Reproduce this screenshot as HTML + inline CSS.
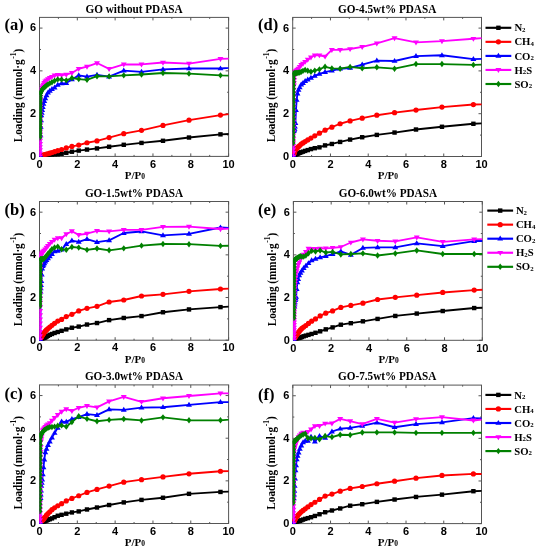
<!DOCTYPE html>
<html><head><meta charset="utf-8"><title>Adsorption isotherms</title>
<style>html,body{margin:0;padding:0;background:#fff;}svg{display:block;}</style></head>
<body>
<svg width="539" height="550" viewBox="0 0 539 550">
<rect width="100%" height="100%" fill="#ffffff"/>
<defs><clipPath id="c0"><rect x="39.5" y="17.4" width="189.1" height="139.0"/></clipPath><clipPath id="c1"><rect x="39.5" y="201.5" width="189.1" height="138.7"/></clipPath><clipPath id="c2"><rect x="39.5" y="384.9" width="189.1" height="138.60000000000002"/></clipPath><clipPath id="c3"><rect x="292.7" y="17.4" width="188.8" height="139.1"/></clipPath><clipPath id="c4"><rect x="293.4" y="201.5" width="188.90000000000003" height="138.8"/></clipPath><clipPath id="c5"><rect x="292.8" y="385.1" width="188.7" height="138.5"/></clipPath></defs>
<rect x="39.5" y="17.4" width="189.1" height="139.0" fill="none" stroke="#555555" stroke-width="1"/>
<path d="M39.50,156.4v-3M39.50,17.4v3M58.41,156.4v-1.5M58.41,17.4v1.5M77.32,156.4v-3M77.32,17.4v3M96.23,156.4v-1.5M96.23,17.4v1.5M115.14,156.4v-3M115.14,17.4v3M134.05,156.4v-1.5M134.05,17.4v1.5M152.96,156.4v-3M152.96,17.4v3M171.87,156.4v-1.5M171.87,17.4v1.5M190.78,156.4v-3M190.78,17.4v3M209.69,156.4v-1.5M209.69,17.4v1.5M228.60,156.4v-3M228.60,17.4v3M39.5,156.40h3M228.6,156.40h-3M39.5,135.02h1.5M228.6,135.02h-1.5M39.5,113.63h3M228.6,113.63h-3M39.5,92.25h1.5M228.6,92.25h-1.5M39.5,70.86h3M228.6,70.86h-3M39.5,49.48h1.5M228.6,49.48h-1.5M39.5,28.09h3M228.6,28.09h-3" stroke="#555555" stroke-width="1" fill="none"/>
<g clip-path="url(#c0)">
<polyline points="39.50,156.40 39.73,156.40 39.77,156.40 39.83,156.40 39.90,156.40 39.98,156.40 40.09,156.40 40.21,156.40 40.36,156.40 40.54,156.40 40.76,156.40 41.02,156.40 41.34,156.40 41.73,156.40 42.20,156.40 42.77,156.40 43.46,156.40 44.29,156.40 45.30,156.40 46.52,156.40 48.00,156.40 49.79,156.40 51.96,156.12 54.59,155.47 57.76,154.68 61.61,153.77 66.27,152.78 71.90,151.72 78.73,150.62 86.99,149.58 96.99,148.43 109.10,146.75 123.76,144.80 141.50,142.92 162.98,140.79 188.99,137.53 220.47,134.36 258.58,132.53" fill="none" stroke="#000000" stroke-width="1.85" stroke-linejoin="round"/>
<rect x="37.53" y="154.20" width="4.40" height="4.40" fill="#000000"/>
<rect x="37.57" y="154.20" width="4.40" height="4.40" fill="#000000"/>
<rect x="37.63" y="154.20" width="4.40" height="4.40" fill="#000000"/>
<rect x="37.70" y="154.20" width="4.40" height="4.40" fill="#000000"/>
<rect x="37.78" y="154.20" width="4.40" height="4.40" fill="#000000"/>
<rect x="37.89" y="154.20" width="4.40" height="4.40" fill="#000000"/>
<rect x="38.01" y="154.20" width="4.40" height="4.40" fill="#000000"/>
<rect x="38.16" y="154.20" width="4.40" height="4.40" fill="#000000"/>
<rect x="38.34" y="154.20" width="4.40" height="4.40" fill="#000000"/>
<rect x="38.56" y="154.20" width="4.40" height="4.40" fill="#000000"/>
<rect x="38.82" y="154.20" width="4.40" height="4.40" fill="#000000"/>
<rect x="39.14" y="154.20" width="4.40" height="4.40" fill="#000000"/>
<rect x="39.53" y="154.20" width="4.40" height="4.40" fill="#000000"/>
<rect x="40.00" y="154.20" width="4.40" height="4.40" fill="#000000"/>
<rect x="40.57" y="154.20" width="4.40" height="4.40" fill="#000000"/>
<rect x="41.26" y="154.20" width="4.40" height="4.40" fill="#000000"/>
<rect x="42.09" y="154.20" width="4.40" height="4.40" fill="#000000"/>
<rect x="43.10" y="154.20" width="4.40" height="4.40" fill="#000000"/>
<rect x="44.32" y="154.20" width="4.40" height="4.40" fill="#000000"/>
<rect x="45.80" y="154.20" width="4.40" height="4.40" fill="#000000"/>
<rect x="47.59" y="154.20" width="4.40" height="4.40" fill="#000000"/>
<rect x="49.76" y="153.92" width="4.40" height="4.40" fill="#000000"/>
<rect x="52.39" y="153.27" width="4.40" height="4.40" fill="#000000"/>
<rect x="55.56" y="152.48" width="4.40" height="4.40" fill="#000000"/>
<rect x="59.41" y="151.57" width="4.40" height="4.40" fill="#000000"/>
<rect x="64.07" y="150.58" width="4.40" height="4.40" fill="#000000"/>
<rect x="69.70" y="149.52" width="4.40" height="4.40" fill="#000000"/>
<rect x="76.53" y="148.42" width="4.40" height="4.40" fill="#000000"/>
<rect x="84.79" y="147.38" width="4.40" height="4.40" fill="#000000"/>
<rect x="94.79" y="146.23" width="4.40" height="4.40" fill="#000000"/>
<rect x="106.90" y="144.55" width="4.40" height="4.40" fill="#000000"/>
<rect x="121.56" y="142.60" width="4.40" height="4.40" fill="#000000"/>
<rect x="139.30" y="140.72" width="4.40" height="4.40" fill="#000000"/>
<rect x="160.78" y="138.59" width="4.40" height="4.40" fill="#000000"/>
<rect x="186.79" y="135.33" width="4.40" height="4.40" fill="#000000"/>
<rect x="218.27" y="132.16" width="4.40" height="4.40" fill="#000000"/>
<rect x="256.38" y="130.33" width="4.40" height="4.40" fill="#000000"/>
<polyline points="39.50,156.40 39.73,156.33 39.77,156.32 39.83,156.30 39.90,156.28 39.98,156.25 40.09,156.22 40.21,156.18 40.36,156.13 40.54,156.08 40.76,156.01 41.02,155.93 41.34,155.83 41.73,155.71 42.20,155.56 42.77,155.38 43.46,155.17 44.29,154.91 45.30,154.60 46.52,154.22 48.00,153.76 49.79,153.20 51.96,152.52 54.59,151.70 57.76,150.71 61.61,149.50 66.27,147.88 71.90,146.38 78.73,145.04 86.99,142.76 96.99,140.90 109.10,137.53 123.76,133.64 141.50,130.29 162.98,125.39 188.99,120.18 220.47,115.10 258.58,110.52" fill="none" stroke="#ff0000" stroke-width="1.85" stroke-linejoin="round"/>
<circle cx="39.73" cy="156.33" r="2.60" fill="#ff0000"/>
<circle cx="39.77" cy="156.32" r="2.60" fill="#ff0000"/>
<circle cx="39.83" cy="156.30" r="2.60" fill="#ff0000"/>
<circle cx="39.90" cy="156.28" r="2.60" fill="#ff0000"/>
<circle cx="39.98" cy="156.25" r="2.60" fill="#ff0000"/>
<circle cx="40.09" cy="156.22" r="2.60" fill="#ff0000"/>
<circle cx="40.21" cy="156.18" r="2.60" fill="#ff0000"/>
<circle cx="40.36" cy="156.13" r="2.60" fill="#ff0000"/>
<circle cx="40.54" cy="156.08" r="2.60" fill="#ff0000"/>
<circle cx="40.76" cy="156.01" r="2.60" fill="#ff0000"/>
<circle cx="41.02" cy="155.93" r="2.60" fill="#ff0000"/>
<circle cx="41.34" cy="155.83" r="2.60" fill="#ff0000"/>
<circle cx="41.73" cy="155.71" r="2.60" fill="#ff0000"/>
<circle cx="42.20" cy="155.56" r="2.60" fill="#ff0000"/>
<circle cx="42.77" cy="155.38" r="2.60" fill="#ff0000"/>
<circle cx="43.46" cy="155.17" r="2.60" fill="#ff0000"/>
<circle cx="44.29" cy="154.91" r="2.60" fill="#ff0000"/>
<circle cx="45.30" cy="154.60" r="2.60" fill="#ff0000"/>
<circle cx="46.52" cy="154.22" r="2.60" fill="#ff0000"/>
<circle cx="48.00" cy="153.76" r="2.60" fill="#ff0000"/>
<circle cx="49.79" cy="153.20" r="2.60" fill="#ff0000"/>
<circle cx="51.96" cy="152.52" r="2.60" fill="#ff0000"/>
<circle cx="54.59" cy="151.70" r="2.60" fill="#ff0000"/>
<circle cx="57.76" cy="150.71" r="2.60" fill="#ff0000"/>
<circle cx="61.61" cy="149.50" r="2.60" fill="#ff0000"/>
<circle cx="66.27" cy="147.88" r="2.60" fill="#ff0000"/>
<circle cx="71.90" cy="146.38" r="2.60" fill="#ff0000"/>
<circle cx="78.73" cy="145.04" r="2.60" fill="#ff0000"/>
<circle cx="86.99" cy="142.76" r="2.60" fill="#ff0000"/>
<circle cx="96.99" cy="140.90" r="2.60" fill="#ff0000"/>
<circle cx="109.10" cy="137.53" r="2.60" fill="#ff0000"/>
<circle cx="123.76" cy="133.64" r="2.60" fill="#ff0000"/>
<circle cx="141.50" cy="130.29" r="2.60" fill="#ff0000"/>
<circle cx="162.98" cy="125.39" r="2.60" fill="#ff0000"/>
<circle cx="188.99" cy="120.18" r="2.60" fill="#ff0000"/>
<circle cx="220.47" cy="115.10" r="2.60" fill="#ff0000"/>
<circle cx="258.58" cy="110.52" r="2.60" fill="#ff0000"/>
<polyline points="39.50,156.40 39.97,156.40 40.00,156.40 40.02,156.40 40.04,156.40 40.07,156.40 40.09,156.40 40.11,156.40 40.14,156.40 40.16,156.40 40.19,156.40 40.21,156.40 40.23,156.40 40.26,156.40 40.28,156.40 40.30,156.40 40.33,156.40 40.35,156.40 40.37,156.40 40.40,156.40 40.42,156.40 40.45,156.40 40.54,135.27 40.76,126.81 41.02,120.27 41.34,115.41 41.73,112.77 42.20,110.12 42.77,107.20 43.46,104.00 44.29,101.15 45.30,98.30 46.52,95.42 48.00,92.69 49.79,90.91 51.96,89.16 54.59,87.52 57.76,84.78 61.61,83.46 66.27,83.05 71.90,79.48 78.73,75.37 86.99,76.63 96.99,74.95 109.10,76.61 123.76,70.68 141.50,71.87 162.98,69.39 188.99,68.51 220.47,68.50 258.58,65.74" fill="none" stroke="#0000ff" stroke-width="1.85" stroke-linejoin="round"/>
<polygon points="39.97,153.30 42.92,158.26 37.03,158.26" fill="#0000ff"/>
<polygon points="40.00,153.30 42.94,158.26 37.05,158.26" fill="#0000ff"/>
<polygon points="40.02,153.30 42.97,158.26 37.08,158.26" fill="#0000ff"/>
<polygon points="40.04,153.30 42.99,158.26 37.10,158.26" fill="#0000ff"/>
<polygon points="40.07,153.30 43.01,158.26 37.12,158.26" fill="#0000ff"/>
<polygon points="40.09,153.30 43.04,158.26 37.15,158.26" fill="#0000ff"/>
<polygon points="40.11,153.30 43.06,158.26 37.17,158.26" fill="#0000ff"/>
<polygon points="40.14,153.30 43.08,158.26 37.19,158.26" fill="#0000ff"/>
<polygon points="40.16,153.30 43.11,158.26 37.22,158.26" fill="#0000ff"/>
<polygon points="40.19,153.30 43.13,158.26 37.24,158.26" fill="#0000ff"/>
<polygon points="40.21,153.30 43.15,158.26 37.26,158.26" fill="#0000ff"/>
<polygon points="40.23,153.30 43.18,158.26 37.29,158.26" fill="#0000ff"/>
<polygon points="40.26,153.30 43.20,158.26 37.31,158.26" fill="#0000ff"/>
<polygon points="40.28,153.30 43.23,158.26 37.34,158.26" fill="#0000ff"/>
<polygon points="40.30,153.30 43.25,158.26 37.36,158.26" fill="#0000ff"/>
<polygon points="40.33,153.30 43.27,158.26 37.38,158.26" fill="#0000ff"/>
<polygon points="40.35,153.30 43.30,158.26 37.41,158.26" fill="#0000ff"/>
<polygon points="40.37,153.30 43.32,158.26 37.43,158.26" fill="#0000ff"/>
<polygon points="40.40,153.30 43.34,158.26 37.45,158.26" fill="#0000ff"/>
<polygon points="40.42,153.30 43.37,158.26 37.48,158.26" fill="#0000ff"/>
<polygon points="40.45,153.30 43.39,158.26 37.50,158.26" fill="#0000ff"/>
<polygon points="40.54,132.17 43.48,137.13 37.59,137.13" fill="#0000ff"/>
<polygon points="40.76,123.71 43.70,128.67 37.81,128.67" fill="#0000ff"/>
<polygon points="41.02,117.17 43.97,122.13 38.08,122.13" fill="#0000ff"/>
<polygon points="41.34,112.31 44.29,117.27 38.40,117.27" fill="#0000ff"/>
<polygon points="41.73,109.67 44.68,114.63 38.79,114.63" fill="#0000ff"/>
<polygon points="42.20,107.02 45.15,111.98 39.26,111.98" fill="#0000ff"/>
<polygon points="42.77,104.10 45.72,109.06 39.83,109.06" fill="#0000ff"/>
<polygon points="43.46,100.90 46.40,105.86 40.51,105.86" fill="#0000ff"/>
<polygon points="44.29,98.05 47.24,103.01 41.35,103.01" fill="#0000ff"/>
<polygon points="45.30,95.20 48.25,100.16 42.36,100.16" fill="#0000ff"/>
<polygon points="46.52,92.32 49.47,97.28 43.58,97.28" fill="#0000ff"/>
<polygon points="48.00,89.59 50.95,94.55 45.06,94.55" fill="#0000ff"/>
<polygon points="49.79,87.81 52.74,92.77 46.85,92.77" fill="#0000ff"/>
<polygon points="51.96,86.06 54.91,91.02 49.02,91.02" fill="#0000ff"/>
<polygon points="54.59,84.42 57.53,89.38 51.64,89.38" fill="#0000ff"/>
<polygon points="57.76,81.68 60.71,86.64 54.82,86.64" fill="#0000ff"/>
<polygon points="61.61,80.36 64.56,85.32 58.67,85.32" fill="#0000ff"/>
<polygon points="66.27,79.95 69.21,84.91 63.32,84.91" fill="#0000ff"/>
<polygon points="71.90,76.38 74.85,81.34 68.96,81.34" fill="#0000ff"/>
<polygon points="78.73,72.27 81.67,77.23 75.78,77.23" fill="#0000ff"/>
<polygon points="86.99,73.53 89.93,78.49 84.04,78.49" fill="#0000ff"/>
<polygon points="96.99,71.85 99.94,76.81 94.05,76.81" fill="#0000ff"/>
<polygon points="109.10,73.51 112.04,78.47 106.15,78.47" fill="#0000ff"/>
<polygon points="123.76,67.58 126.70,72.54 120.81,72.54" fill="#0000ff"/>
<polygon points="141.50,68.77 144.45,73.73 138.56,73.73" fill="#0000ff"/>
<polygon points="162.98,66.29 165.93,71.25 160.04,71.25" fill="#0000ff"/>
<polygon points="188.99,65.41 191.93,70.37 186.04,70.37" fill="#0000ff"/>
<polygon points="220.47,65.40 223.41,70.36 217.52,70.36" fill="#0000ff"/>
<polygon points="258.58,62.64 261.53,67.60 255.64,67.60" fill="#0000ff"/>
<polyline points="39.50,156.40 39.97,156.40 40.00,153.27 40.02,150.13 40.04,147.00 40.07,143.86 40.09,140.73 40.11,137.59 40.14,134.46 40.16,131.32 40.19,128.19 40.21,125.05 40.23,121.92 40.26,118.78 40.28,115.65 40.30,112.51 40.33,109.38 40.35,106.24 40.37,103.11 40.40,99.97 40.42,96.84 40.45,93.70 40.54,93.37 40.76,92.58 41.02,91.63 41.34,90.47 41.73,89.08 42.20,87.39 42.77,86.02 43.46,84.63 44.29,82.95 45.30,81.28 46.52,80.25 48.00,78.99 49.79,77.98 51.96,76.75 54.59,75.48 57.76,74.97 61.61,75.08 66.27,74.58 71.90,72.94 78.73,68.76 86.99,66.58 96.99,63.04 109.10,68.85 123.76,64.47 141.50,64.45 162.98,62.54 188.99,63.58 220.47,58.88 258.58,57.50" fill="none" stroke="#ff00ff" stroke-width="1.85" stroke-linejoin="round"/>
<polygon points="39.97,159.50 42.92,154.54 37.03,154.54" fill="#ff00ff"/>
<polygon points="40.00,156.37 42.94,151.41 37.05,151.41" fill="#ff00ff"/>
<polygon points="40.02,153.23 42.97,148.27 37.08,148.27" fill="#ff00ff"/>
<polygon points="40.04,150.10 42.99,145.14 37.10,145.14" fill="#ff00ff"/>
<polygon points="40.07,146.96 43.01,142.00 37.12,142.00" fill="#ff00ff"/>
<polygon points="40.09,143.83 43.04,138.87 37.15,138.87" fill="#ff00ff"/>
<polygon points="40.11,140.69 43.06,135.73 37.17,135.73" fill="#ff00ff"/>
<polygon points="40.14,137.56 43.08,132.60 37.19,132.60" fill="#ff00ff"/>
<polygon points="40.16,134.42 43.11,129.46 37.22,129.46" fill="#ff00ff"/>
<polygon points="40.19,131.29 43.13,126.33 37.24,126.33" fill="#ff00ff"/>
<polygon points="40.21,128.15 43.15,123.19 37.26,123.19" fill="#ff00ff"/>
<polygon points="40.23,125.02 43.18,120.06 37.29,120.06" fill="#ff00ff"/>
<polygon points="40.26,121.88 43.20,116.92 37.31,116.92" fill="#ff00ff"/>
<polygon points="40.28,118.75 43.23,113.79 37.34,113.79" fill="#ff00ff"/>
<polygon points="40.30,115.61 43.25,110.65 37.36,110.65" fill="#ff00ff"/>
<polygon points="40.33,112.48 43.27,107.52 37.38,107.52" fill="#ff00ff"/>
<polygon points="40.35,109.34 43.30,104.38 37.41,104.38" fill="#ff00ff"/>
<polygon points="40.37,106.21 43.32,101.25 37.43,101.25" fill="#ff00ff"/>
<polygon points="40.40,103.07 43.34,98.11 37.45,98.11" fill="#ff00ff"/>
<polygon points="40.42,99.94 43.37,94.98 37.48,94.98" fill="#ff00ff"/>
<polygon points="40.45,96.80 43.39,91.84 37.50,91.84" fill="#ff00ff"/>
<polygon points="40.54,96.47 43.48,91.51 37.59,91.51" fill="#ff00ff"/>
<polygon points="40.76,95.68 43.70,90.72 37.81,90.72" fill="#ff00ff"/>
<polygon points="41.02,94.73 43.97,89.77 38.08,89.77" fill="#ff00ff"/>
<polygon points="41.34,93.57 44.29,88.61 38.40,88.61" fill="#ff00ff"/>
<polygon points="41.73,92.18 44.68,87.22 38.79,87.22" fill="#ff00ff"/>
<polygon points="42.20,90.49 45.15,85.53 39.26,85.53" fill="#ff00ff"/>
<polygon points="42.77,89.12 45.72,84.16 39.83,84.16" fill="#ff00ff"/>
<polygon points="43.46,87.73 46.40,82.77 40.51,82.77" fill="#ff00ff"/>
<polygon points="44.29,86.05 47.24,81.09 41.35,81.09" fill="#ff00ff"/>
<polygon points="45.30,84.38 48.25,79.42 42.36,79.42" fill="#ff00ff"/>
<polygon points="46.52,83.35 49.47,78.39 43.58,78.39" fill="#ff00ff"/>
<polygon points="48.00,82.09 50.95,77.13 45.06,77.13" fill="#ff00ff"/>
<polygon points="49.79,81.08 52.74,76.12 46.85,76.12" fill="#ff00ff"/>
<polygon points="51.96,79.85 54.91,74.89 49.02,74.89" fill="#ff00ff"/>
<polygon points="54.59,78.58 57.53,73.62 51.64,73.62" fill="#ff00ff"/>
<polygon points="57.76,78.07 60.71,73.11 54.82,73.11" fill="#ff00ff"/>
<polygon points="61.61,78.18 64.56,73.22 58.67,73.22" fill="#ff00ff"/>
<polygon points="66.27,77.68 69.21,72.72 63.32,72.72" fill="#ff00ff"/>
<polygon points="71.90,76.04 74.85,71.08 68.96,71.08" fill="#ff00ff"/>
<polygon points="78.73,71.86 81.67,66.90 75.78,66.90" fill="#ff00ff"/>
<polygon points="86.99,69.68 89.93,64.72 84.04,64.72" fill="#ff00ff"/>
<polygon points="96.99,66.14 99.94,61.18 94.05,61.18" fill="#ff00ff"/>
<polygon points="109.10,71.95 112.04,66.99 106.15,66.99" fill="#ff00ff"/>
<polygon points="123.76,67.57 126.70,62.61 120.81,62.61" fill="#ff00ff"/>
<polygon points="141.50,67.55 144.45,62.59 138.56,62.59" fill="#ff00ff"/>
<polygon points="162.98,65.64 165.93,60.68 160.04,60.68" fill="#ff00ff"/>
<polygon points="188.99,66.68 191.93,61.72 186.04,61.72" fill="#ff00ff"/>
<polygon points="220.47,61.98 223.41,57.02 217.52,57.02" fill="#ff00ff"/>
<polygon points="258.58,60.60 261.53,55.64 255.64,55.64" fill="#ff00ff"/>
<polyline points="39.50,137.58 39.97,137.58 40.00,135.37 40.02,133.15 40.04,130.94 40.07,128.73 40.09,126.52 40.11,124.30 40.14,122.09 40.16,119.88 40.19,117.66 40.21,115.45 40.23,113.24 40.26,111.02 40.28,108.81 40.30,106.60 40.33,104.38 40.35,102.17 40.37,99.96 40.40,97.74 40.42,95.53 40.45,93.32 40.54,93.09 40.76,92.57 41.02,91.93 41.34,91.16 41.73,90.23 42.20,89.43 42.77,88.85 43.46,88.14 44.29,87.34 45.30,86.52 46.52,85.53 48.00,84.34 49.79,83.37 51.96,82.21 54.59,80.78 57.76,79.42 61.61,79.54 66.27,80.34 71.90,78.04 78.73,79.05 86.99,79.83 96.99,76.21 109.10,76.42 123.76,75.36 141.50,74.50 162.98,73.01 188.99,73.65 220.47,75.36 258.58,76.27" fill="none" stroke="#008000" stroke-width="1.85" stroke-linejoin="round"/>
<polygon points="39.97,134.38 42.37,137.58 39.97,140.78 37.57,137.58" fill="#008000"/>
<polygon points="40.00,132.17 42.40,135.37 40.00,138.57 37.60,135.37" fill="#008000"/>
<polygon points="40.02,129.95 42.42,133.15 40.02,136.35 37.62,133.15" fill="#008000"/>
<polygon points="40.04,127.74 42.44,130.94 40.04,134.14 37.64,130.94" fill="#008000"/>
<polygon points="40.07,125.53 42.47,128.73 40.07,131.93 37.67,128.73" fill="#008000"/>
<polygon points="40.09,123.32 42.49,126.52 40.09,129.72 37.69,126.52" fill="#008000"/>
<polygon points="40.11,121.10 42.51,124.30 40.11,127.50 37.71,124.30" fill="#008000"/>
<polygon points="40.14,118.89 42.54,122.09 40.14,125.29 37.74,122.09" fill="#008000"/>
<polygon points="40.16,116.68 42.56,119.88 40.16,123.08 37.76,119.88" fill="#008000"/>
<polygon points="40.19,114.46 42.59,117.66 40.19,120.86 37.79,117.66" fill="#008000"/>
<polygon points="40.21,112.25 42.61,115.45 40.21,118.65 37.81,115.45" fill="#008000"/>
<polygon points="40.23,110.04 42.63,113.24 40.23,116.44 37.83,113.24" fill="#008000"/>
<polygon points="40.26,107.82 42.66,111.02 40.26,114.22 37.86,111.02" fill="#008000"/>
<polygon points="40.28,105.61 42.68,108.81 40.28,112.01 37.88,108.81" fill="#008000"/>
<polygon points="40.30,103.40 42.70,106.60 40.30,109.80 37.90,106.60" fill="#008000"/>
<polygon points="40.33,101.18 42.73,104.38 40.33,107.58 37.93,104.38" fill="#008000"/>
<polygon points="40.35,98.97 42.75,102.17 40.35,105.37 37.95,102.17" fill="#008000"/>
<polygon points="40.37,96.76 42.77,99.96 40.37,103.16 37.97,99.96" fill="#008000"/>
<polygon points="40.40,94.54 42.80,97.74 40.40,100.94 38.00,97.74" fill="#008000"/>
<polygon points="40.42,92.33 42.82,95.53 40.42,98.73 38.02,95.53" fill="#008000"/>
<polygon points="40.45,90.12 42.85,93.32 40.45,96.52 38.05,93.32" fill="#008000"/>
<polygon points="40.54,89.89 42.94,93.09 40.54,96.29 38.14,93.09" fill="#008000"/>
<polygon points="40.76,89.37 43.16,92.57 40.76,95.77 38.36,92.57" fill="#008000"/>
<polygon points="41.02,88.73 43.42,91.93 41.02,95.13 38.62,91.93" fill="#008000"/>
<polygon points="41.34,87.96 43.74,91.16 41.34,94.36 38.94,91.16" fill="#008000"/>
<polygon points="41.73,87.03 44.13,90.23 41.73,93.43 39.33,90.23" fill="#008000"/>
<polygon points="42.20,86.23 44.60,89.43 42.20,92.63 39.80,89.43" fill="#008000"/>
<polygon points="42.77,85.65 45.17,88.85 42.77,92.05 40.37,88.85" fill="#008000"/>
<polygon points="43.46,84.94 45.86,88.14 43.46,91.34 41.06,88.14" fill="#008000"/>
<polygon points="44.29,84.14 46.69,87.34 44.29,90.54 41.89,87.34" fill="#008000"/>
<polygon points="45.30,83.32 47.70,86.52 45.30,89.72 42.90,86.52" fill="#008000"/>
<polygon points="46.52,82.33 48.92,85.53 46.52,88.73 44.12,85.53" fill="#008000"/>
<polygon points="48.00,81.14 50.40,84.34 48.00,87.54 45.60,84.34" fill="#008000"/>
<polygon points="49.79,80.17 52.19,83.37 49.79,86.57 47.39,83.37" fill="#008000"/>
<polygon points="51.96,79.01 54.36,82.21 51.96,85.41 49.56,82.21" fill="#008000"/>
<polygon points="54.59,77.58 56.99,80.78 54.59,83.98 52.19,80.78" fill="#008000"/>
<polygon points="57.76,76.22 60.16,79.42 57.76,82.62 55.36,79.42" fill="#008000"/>
<polygon points="61.61,76.34 64.01,79.54 61.61,82.74 59.21,79.54" fill="#008000"/>
<polygon points="66.27,77.14 68.67,80.34 66.27,83.54 63.87,80.34" fill="#008000"/>
<polygon points="71.90,74.84 74.30,78.04 71.90,81.24 69.50,78.04" fill="#008000"/>
<polygon points="78.73,75.85 81.13,79.05 78.73,82.25 76.33,79.05" fill="#008000"/>
<polygon points="86.99,76.63 89.39,79.83 86.99,83.03 84.59,79.83" fill="#008000"/>
<polygon points="96.99,73.01 99.39,76.21 96.99,79.41 94.59,76.21" fill="#008000"/>
<polygon points="109.10,73.22 111.50,76.42 109.10,79.62 106.70,76.42" fill="#008000"/>
<polygon points="123.76,72.16 126.16,75.36 123.76,78.56 121.36,75.36" fill="#008000"/>
<polygon points="141.50,71.30 143.90,74.50 141.50,77.70 139.10,74.50" fill="#008000"/>
<polygon points="162.98,69.81 165.38,73.01 162.98,76.21 160.58,73.01" fill="#008000"/>
<polygon points="188.99,70.45 191.39,73.65 188.99,76.85 186.59,73.65" fill="#008000"/>
<polygon points="220.47,72.16 222.87,75.36 220.47,78.56 218.07,75.36" fill="#008000"/>
<polygon points="258.58,73.07 260.98,76.27 258.58,79.47 256.18,76.27" fill="#008000"/>
</g>
<text x="39.50" y="167.60" text-anchor="middle" font-family="'Liberation Sans',Arial,sans-serif" font-weight="bold" font-size="11">0</text>
<text x="77.32" y="167.60" text-anchor="middle" font-family="'Liberation Sans',Arial,sans-serif" font-weight="bold" font-size="11">2</text>
<text x="115.14" y="167.60" text-anchor="middle" font-family="'Liberation Sans',Arial,sans-serif" font-weight="bold" font-size="11">4</text>
<text x="152.96" y="167.60" text-anchor="middle" font-family="'Liberation Sans',Arial,sans-serif" font-weight="bold" font-size="11">6</text>
<text x="190.78" y="167.60" text-anchor="middle" font-family="'Liberation Sans',Arial,sans-serif" font-weight="bold" font-size="11">8</text>
<text x="228.60" y="167.60" text-anchor="middle" font-family="'Liberation Sans',Arial,sans-serif" font-weight="bold" font-size="11">10</text>
<text x="36.00" y="159.80" text-anchor="end" font-family="'Liberation Sans',Arial,sans-serif" font-weight="bold" font-size="11">0</text>
<text x="36.00" y="117.03" text-anchor="end" font-family="'Liberation Sans',Arial,sans-serif" font-weight="bold" font-size="11">2</text>
<text x="36.00" y="74.26" text-anchor="end" font-family="'Liberation Sans',Arial,sans-serif" font-weight="bold" font-size="11">4</text>
<text x="36.00" y="31.49" text-anchor="end" font-family="'Liberation Sans',Arial,sans-serif" font-weight="bold" font-size="11">6</text>
<text x="85.51" y="12.50" font-family="'Liberation Serif','Times New Roman',serif" font-weight="bold" font-size="12" textLength="97.07" lengthAdjust="spacingAndGlyphs">GO without PDASA</text>
<text x="4.50" y="30.40" font-family="'Liberation Serif','Times New Roman',serif" font-weight="bold" font-size="16.5">(a)</text>
<text x="134.85" y="179.00" text-anchor="middle" font-family="'Liberation Serif','Times New Roman',serif" font-weight="bold" font-size="11">P/P<tspan font-size="7.5">0</tspan></text>
<text transform="translate(21.70,95.50) rotate(-90) scale(0.94,1)" text-anchor="middle" font-family="'Liberation Serif','Times New Roman',serif" font-weight="bold" font-size="11.9">Loading (mmol·g<tspan font-size="8" dy="-6" dx="0.6">-1</tspan><tspan dy="6">)</tspan></text>
<rect x="39.5" y="201.5" width="189.1" height="138.7" fill="none" stroke="#555555" stroke-width="1"/>
<path d="M39.50,340.2v-3M39.50,201.5v3M58.41,340.2v-1.5M58.41,201.5v1.5M77.32,340.2v-3M77.32,201.5v3M96.23,340.2v-1.5M96.23,201.5v1.5M115.14,340.2v-3M115.14,201.5v3M134.05,340.2v-1.5M134.05,201.5v1.5M152.96,340.2v-3M152.96,201.5v3M171.87,340.2v-1.5M171.87,201.5v1.5M190.78,340.2v-3M190.78,201.5v3M209.69,340.2v-1.5M209.69,201.5v1.5M228.60,340.2v-3M228.60,201.5v3M39.5,340.20h3M228.6,340.20h-3M39.5,318.86h1.5M228.6,318.86h-1.5M39.5,297.52h3M228.6,297.52h-3M39.5,276.18h1.5M228.6,276.18h-1.5M39.5,254.85h3M228.6,254.85h-3M39.5,233.51h1.5M228.6,233.51h-1.5M39.5,212.17h3M228.6,212.17h-3" stroke="#555555" stroke-width="1" fill="none"/>
<g clip-path="url(#c1)">
<polyline points="39.50,340.20 39.73,340.15 39.77,340.14 39.83,340.13 39.90,340.11 39.98,340.09 40.09,340.07 40.21,340.04 40.36,340.01 40.54,339.97 40.76,339.92 41.02,339.86 41.34,339.78 41.73,339.58 42.20,339.32 42.77,339.00 43.46,338.61 44.29,338.10 45.30,337.47 46.52,336.71 48.00,335.79 49.79,334.83 51.96,333.98 54.59,332.96 57.76,332.00 61.61,330.83 66.27,329.39 71.90,327.75 78.73,326.59 86.99,324.54 96.99,323.04 109.10,320.11 123.76,317.96 141.50,316.07 162.98,312.25 188.99,309.44 220.47,307.11 258.58,304.83" fill="none" stroke="#000000" stroke-width="1.85" stroke-linejoin="round"/>
<rect x="37.53" y="337.95" width="4.40" height="4.40" fill="#000000"/>
<rect x="37.57" y="337.94" width="4.40" height="4.40" fill="#000000"/>
<rect x="37.63" y="337.93" width="4.40" height="4.40" fill="#000000"/>
<rect x="37.70" y="337.91" width="4.40" height="4.40" fill="#000000"/>
<rect x="37.78" y="337.89" width="4.40" height="4.40" fill="#000000"/>
<rect x="37.89" y="337.87" width="4.40" height="4.40" fill="#000000"/>
<rect x="38.01" y="337.84" width="4.40" height="4.40" fill="#000000"/>
<rect x="38.16" y="337.81" width="4.40" height="4.40" fill="#000000"/>
<rect x="38.34" y="337.77" width="4.40" height="4.40" fill="#000000"/>
<rect x="38.56" y="337.72" width="4.40" height="4.40" fill="#000000"/>
<rect x="38.82" y="337.66" width="4.40" height="4.40" fill="#000000"/>
<rect x="39.14" y="337.58" width="4.40" height="4.40" fill="#000000"/>
<rect x="39.53" y="337.38" width="4.40" height="4.40" fill="#000000"/>
<rect x="40.00" y="337.12" width="4.40" height="4.40" fill="#000000"/>
<rect x="40.57" y="336.80" width="4.40" height="4.40" fill="#000000"/>
<rect x="41.26" y="336.41" width="4.40" height="4.40" fill="#000000"/>
<rect x="42.09" y="335.90" width="4.40" height="4.40" fill="#000000"/>
<rect x="43.10" y="335.27" width="4.40" height="4.40" fill="#000000"/>
<rect x="44.32" y="334.51" width="4.40" height="4.40" fill="#000000"/>
<rect x="45.80" y="333.59" width="4.40" height="4.40" fill="#000000"/>
<rect x="47.59" y="332.63" width="4.40" height="4.40" fill="#000000"/>
<rect x="49.76" y="331.78" width="4.40" height="4.40" fill="#000000"/>
<rect x="52.39" y="330.76" width="4.40" height="4.40" fill="#000000"/>
<rect x="55.56" y="329.80" width="4.40" height="4.40" fill="#000000"/>
<rect x="59.41" y="328.63" width="4.40" height="4.40" fill="#000000"/>
<rect x="64.07" y="327.19" width="4.40" height="4.40" fill="#000000"/>
<rect x="69.70" y="325.55" width="4.40" height="4.40" fill="#000000"/>
<rect x="76.53" y="324.39" width="4.40" height="4.40" fill="#000000"/>
<rect x="84.79" y="322.34" width="4.40" height="4.40" fill="#000000"/>
<rect x="94.79" y="320.84" width="4.40" height="4.40" fill="#000000"/>
<rect x="106.90" y="317.91" width="4.40" height="4.40" fill="#000000"/>
<rect x="121.56" y="315.76" width="4.40" height="4.40" fill="#000000"/>
<rect x="139.30" y="313.87" width="4.40" height="4.40" fill="#000000"/>
<rect x="160.78" y="310.05" width="4.40" height="4.40" fill="#000000"/>
<rect x="186.79" y="307.24" width="4.40" height="4.40" fill="#000000"/>
<rect x="218.27" y="304.91" width="4.40" height="4.40" fill="#000000"/>
<rect x="256.38" y="302.63" width="4.40" height="4.40" fill="#000000"/>
<polyline points="39.50,340.20 39.73,339.74 39.77,339.65 39.83,339.53 39.90,339.39 39.98,339.22 40.09,339.01 40.21,338.76 40.36,338.46 40.54,338.14 40.76,337.80 41.02,337.39 41.34,336.90 41.73,336.30 42.20,335.58 42.77,334.74 43.46,333.78 44.29,332.62 45.30,331.21 46.52,329.91 48.00,328.61 49.79,327.09 51.96,325.36 54.59,323.32 57.76,321.08 61.61,319.39 66.27,316.55 71.90,314.36 78.73,310.96 86.99,308.29 96.99,306.35 109.10,301.98 123.76,299.98 141.50,296.02 162.98,294.32 188.99,291.30 220.47,288.98 258.58,287.15" fill="none" stroke="#ff0000" stroke-width="1.85" stroke-linejoin="round"/>
<circle cx="39.73" cy="339.74" r="2.60" fill="#ff0000"/>
<circle cx="39.77" cy="339.65" r="2.60" fill="#ff0000"/>
<circle cx="39.83" cy="339.53" r="2.60" fill="#ff0000"/>
<circle cx="39.90" cy="339.39" r="2.60" fill="#ff0000"/>
<circle cx="39.98" cy="339.22" r="2.60" fill="#ff0000"/>
<circle cx="40.09" cy="339.01" r="2.60" fill="#ff0000"/>
<circle cx="40.21" cy="338.76" r="2.60" fill="#ff0000"/>
<circle cx="40.36" cy="338.46" r="2.60" fill="#ff0000"/>
<circle cx="40.54" cy="338.14" r="2.60" fill="#ff0000"/>
<circle cx="40.76" cy="337.80" r="2.60" fill="#ff0000"/>
<circle cx="41.02" cy="337.39" r="2.60" fill="#ff0000"/>
<circle cx="41.34" cy="336.90" r="2.60" fill="#ff0000"/>
<circle cx="41.73" cy="336.30" r="2.60" fill="#ff0000"/>
<circle cx="42.20" cy="335.58" r="2.60" fill="#ff0000"/>
<circle cx="42.77" cy="334.74" r="2.60" fill="#ff0000"/>
<circle cx="43.46" cy="333.78" r="2.60" fill="#ff0000"/>
<circle cx="44.29" cy="332.62" r="2.60" fill="#ff0000"/>
<circle cx="45.30" cy="331.21" r="2.60" fill="#ff0000"/>
<circle cx="46.52" cy="329.91" r="2.60" fill="#ff0000"/>
<circle cx="48.00" cy="328.61" r="2.60" fill="#ff0000"/>
<circle cx="49.79" cy="327.09" r="2.60" fill="#ff0000"/>
<circle cx="51.96" cy="325.36" r="2.60" fill="#ff0000"/>
<circle cx="54.59" cy="323.32" r="2.60" fill="#ff0000"/>
<circle cx="57.76" cy="321.08" r="2.60" fill="#ff0000"/>
<circle cx="61.61" cy="319.39" r="2.60" fill="#ff0000"/>
<circle cx="66.27" cy="316.55" r="2.60" fill="#ff0000"/>
<circle cx="71.90" cy="314.36" r="2.60" fill="#ff0000"/>
<circle cx="78.73" cy="310.96" r="2.60" fill="#ff0000"/>
<circle cx="86.99" cy="308.29" r="2.60" fill="#ff0000"/>
<circle cx="96.99" cy="306.35" r="2.60" fill="#ff0000"/>
<circle cx="109.10" cy="301.98" r="2.60" fill="#ff0000"/>
<circle cx="123.76" cy="299.98" r="2.60" fill="#ff0000"/>
<circle cx="141.50" cy="296.02" r="2.60" fill="#ff0000"/>
<circle cx="162.98" cy="294.32" r="2.60" fill="#ff0000"/>
<circle cx="188.99" cy="291.30" r="2.60" fill="#ff0000"/>
<circle cx="220.47" cy="288.98" r="2.60" fill="#ff0000"/>
<circle cx="258.58" cy="287.15" r="2.60" fill="#ff0000"/>
<polyline points="39.50,340.20 39.97,340.20 40.00,340.20 40.02,340.20 40.04,340.20 40.07,340.20 40.09,340.20 40.11,340.20 40.14,340.20 40.16,340.20 40.19,340.20 40.21,340.20 40.23,340.20 40.26,340.20 40.28,340.20 40.30,340.20 40.33,340.20 40.35,340.20 40.37,340.20 40.40,340.20 40.42,340.20 40.45,340.20 40.54,291.70 40.76,288.39 41.02,285.07 41.34,281.05 41.73,274.69 42.20,268.69 42.77,266.20 43.46,264.93 44.29,263.38 45.30,261.72 46.52,260.23 48.00,258.44 49.79,256.27 51.96,254.04 54.59,251.42 57.76,251.01 61.61,249.53 66.27,244.17 71.90,240.65 78.73,241.79 86.99,239.10 96.99,242.20 109.10,240.35 123.76,233.02 141.50,231.46 162.98,235.40 188.99,233.91 220.47,227.53 258.58,228.92" fill="none" stroke="#0000ff" stroke-width="1.85" stroke-linejoin="round"/>
<polygon points="39.97,337.10 42.92,342.06 37.03,342.06" fill="#0000ff"/>
<polygon points="40.00,337.10 42.94,342.06 37.05,342.06" fill="#0000ff"/>
<polygon points="40.02,337.10 42.97,342.06 37.08,342.06" fill="#0000ff"/>
<polygon points="40.04,337.10 42.99,342.06 37.10,342.06" fill="#0000ff"/>
<polygon points="40.07,337.10 43.01,342.06 37.12,342.06" fill="#0000ff"/>
<polygon points="40.09,337.10 43.04,342.06 37.15,342.06" fill="#0000ff"/>
<polygon points="40.11,337.10 43.06,342.06 37.17,342.06" fill="#0000ff"/>
<polygon points="40.14,337.10 43.08,342.06 37.19,342.06" fill="#0000ff"/>
<polygon points="40.16,337.10 43.11,342.06 37.22,342.06" fill="#0000ff"/>
<polygon points="40.19,337.10 43.13,342.06 37.24,342.06" fill="#0000ff"/>
<polygon points="40.21,337.10 43.15,342.06 37.26,342.06" fill="#0000ff"/>
<polygon points="40.23,337.10 43.18,342.06 37.29,342.06" fill="#0000ff"/>
<polygon points="40.26,337.10 43.20,342.06 37.31,342.06" fill="#0000ff"/>
<polygon points="40.28,337.10 43.23,342.06 37.34,342.06" fill="#0000ff"/>
<polygon points="40.30,337.10 43.25,342.06 37.36,342.06" fill="#0000ff"/>
<polygon points="40.33,337.10 43.27,342.06 37.38,342.06" fill="#0000ff"/>
<polygon points="40.35,337.10 43.30,342.06 37.41,342.06" fill="#0000ff"/>
<polygon points="40.37,337.10 43.32,342.06 37.43,342.06" fill="#0000ff"/>
<polygon points="40.40,337.10 43.34,342.06 37.45,342.06" fill="#0000ff"/>
<polygon points="40.42,337.10 43.37,342.06 37.48,342.06" fill="#0000ff"/>
<polygon points="40.45,337.10 43.39,342.06 37.50,342.06" fill="#0000ff"/>
<polygon points="40.54,288.60 43.48,293.56 37.59,293.56" fill="#0000ff"/>
<polygon points="40.76,285.29 43.70,290.25 37.81,290.25" fill="#0000ff"/>
<polygon points="41.02,281.97 43.97,286.93 38.08,286.93" fill="#0000ff"/>
<polygon points="41.34,277.95 44.29,282.91 38.40,282.91" fill="#0000ff"/>
<polygon points="41.73,271.59 44.68,276.55 38.79,276.55" fill="#0000ff"/>
<polygon points="42.20,265.59 45.15,270.55 39.26,270.55" fill="#0000ff"/>
<polygon points="42.77,263.10 45.72,268.06 39.83,268.06" fill="#0000ff"/>
<polygon points="43.46,261.83 46.40,266.79 40.51,266.79" fill="#0000ff"/>
<polygon points="44.29,260.28 47.24,265.24 41.35,265.24" fill="#0000ff"/>
<polygon points="45.30,258.62 48.25,263.58 42.36,263.58" fill="#0000ff"/>
<polygon points="46.52,257.13 49.47,262.09 43.58,262.09" fill="#0000ff"/>
<polygon points="48.00,255.34 50.95,260.30 45.06,260.30" fill="#0000ff"/>
<polygon points="49.79,253.17 52.74,258.13 46.85,258.13" fill="#0000ff"/>
<polygon points="51.96,250.94 54.91,255.90 49.02,255.90" fill="#0000ff"/>
<polygon points="54.59,248.32 57.53,253.28 51.64,253.28" fill="#0000ff"/>
<polygon points="57.76,247.91 60.71,252.87 54.82,252.87" fill="#0000ff"/>
<polygon points="61.61,246.43 64.56,251.39 58.67,251.39" fill="#0000ff"/>
<polygon points="66.27,241.07 69.21,246.03 63.32,246.03" fill="#0000ff"/>
<polygon points="71.90,237.55 74.85,242.51 68.96,242.51" fill="#0000ff"/>
<polygon points="78.73,238.69 81.67,243.65 75.78,243.65" fill="#0000ff"/>
<polygon points="86.99,236.00 89.93,240.96 84.04,240.96" fill="#0000ff"/>
<polygon points="96.99,239.10 99.94,244.06 94.05,244.06" fill="#0000ff"/>
<polygon points="109.10,237.25 112.04,242.21 106.15,242.21" fill="#0000ff"/>
<polygon points="123.76,229.92 126.70,234.88 120.81,234.88" fill="#0000ff"/>
<polygon points="141.50,228.36 144.45,233.32 138.56,233.32" fill="#0000ff"/>
<polygon points="162.98,232.30 165.93,237.26 160.04,237.26" fill="#0000ff"/>
<polygon points="188.99,230.81 191.93,235.77 186.04,235.77" fill="#0000ff"/>
<polygon points="220.47,224.43 223.41,229.39 217.52,229.39" fill="#0000ff"/>
<polygon points="258.58,225.82 261.53,230.78 255.64,230.78" fill="#0000ff"/>
<polyline points="39.50,340.20 39.97,340.20 40.00,336.02 40.02,331.84 40.04,327.65 40.07,323.47 40.09,319.29 40.11,315.11 40.14,310.92 40.16,306.74 40.19,302.56 40.21,298.38 40.23,294.19 40.26,290.01 40.28,285.83 40.30,281.65 40.33,277.46 40.35,273.28 40.37,269.10 40.40,264.92 40.42,260.74 40.45,256.55 40.54,256.34 40.76,255.85 41.02,255.25 41.34,254.53 41.73,253.65 42.20,252.86 42.77,252.22 43.46,251.45 44.29,250.50 45.30,249.31 46.52,247.71 48.00,245.78 49.79,243.76 51.96,241.75 54.59,239.71 57.76,238.03 61.61,238.05 66.27,234.22 71.90,231.22 78.73,234.92 86.99,233.71 96.99,230.96 109.10,231.33 123.76,229.88 141.50,229.82 162.98,226.89 188.99,226.69 220.47,229.03 258.58,227.18" fill="none" stroke="#ff00ff" stroke-width="1.85" stroke-linejoin="round"/>
<polygon points="39.97,343.30 42.92,338.34 37.03,338.34" fill="#ff00ff"/>
<polygon points="40.00,339.12 42.94,334.16 37.05,334.16" fill="#ff00ff"/>
<polygon points="40.02,334.94 42.97,329.98 37.08,329.98" fill="#ff00ff"/>
<polygon points="40.04,330.75 42.99,325.79 37.10,325.79" fill="#ff00ff"/>
<polygon points="40.07,326.57 43.01,321.61 37.12,321.61" fill="#ff00ff"/>
<polygon points="40.09,322.39 43.04,317.43 37.15,317.43" fill="#ff00ff"/>
<polygon points="40.11,318.21 43.06,313.25 37.17,313.25" fill="#ff00ff"/>
<polygon points="40.14,314.02 43.08,309.06 37.19,309.06" fill="#ff00ff"/>
<polygon points="40.16,309.84 43.11,304.88 37.22,304.88" fill="#ff00ff"/>
<polygon points="40.19,305.66 43.13,300.70 37.24,300.70" fill="#ff00ff"/>
<polygon points="40.21,301.48 43.15,296.52 37.26,296.52" fill="#ff00ff"/>
<polygon points="40.23,297.29 43.18,292.33 37.29,292.33" fill="#ff00ff"/>
<polygon points="40.26,293.11 43.20,288.15 37.31,288.15" fill="#ff00ff"/>
<polygon points="40.28,288.93 43.23,283.97 37.34,283.97" fill="#ff00ff"/>
<polygon points="40.30,284.75 43.25,279.79 37.36,279.79" fill="#ff00ff"/>
<polygon points="40.33,280.56 43.27,275.60 37.38,275.60" fill="#ff00ff"/>
<polygon points="40.35,276.38 43.30,271.42 37.41,271.42" fill="#ff00ff"/>
<polygon points="40.37,272.20 43.32,267.24 37.43,267.24" fill="#ff00ff"/>
<polygon points="40.40,268.02 43.34,263.06 37.45,263.06" fill="#ff00ff"/>
<polygon points="40.42,263.84 43.37,258.88 37.48,258.88" fill="#ff00ff"/>
<polygon points="40.45,259.65 43.39,254.69 37.50,254.69" fill="#ff00ff"/>
<polygon points="40.54,259.44 43.48,254.48 37.59,254.48" fill="#ff00ff"/>
<polygon points="40.76,258.95 43.70,253.99 37.81,253.99" fill="#ff00ff"/>
<polygon points="41.02,258.35 43.97,253.39 38.08,253.39" fill="#ff00ff"/>
<polygon points="41.34,257.63 44.29,252.67 38.40,252.67" fill="#ff00ff"/>
<polygon points="41.73,256.75 44.68,251.79 38.79,251.79" fill="#ff00ff"/>
<polygon points="42.20,255.96 45.15,251.00 39.26,251.00" fill="#ff00ff"/>
<polygon points="42.77,255.32 45.72,250.36 39.83,250.36" fill="#ff00ff"/>
<polygon points="43.46,254.55 46.40,249.59 40.51,249.59" fill="#ff00ff"/>
<polygon points="44.29,253.60 47.24,248.64 41.35,248.64" fill="#ff00ff"/>
<polygon points="45.30,252.41 48.25,247.45 42.36,247.45" fill="#ff00ff"/>
<polygon points="46.52,250.81 49.47,245.85 43.58,245.85" fill="#ff00ff"/>
<polygon points="48.00,248.88 50.95,243.92 45.06,243.92" fill="#ff00ff"/>
<polygon points="49.79,246.86 52.74,241.90 46.85,241.90" fill="#ff00ff"/>
<polygon points="51.96,244.85 54.91,239.89 49.02,239.89" fill="#ff00ff"/>
<polygon points="54.59,242.81 57.53,237.85 51.64,237.85" fill="#ff00ff"/>
<polygon points="57.76,241.13 60.71,236.17 54.82,236.17" fill="#ff00ff"/>
<polygon points="61.61,241.15 64.56,236.19 58.67,236.19" fill="#ff00ff"/>
<polygon points="66.27,237.32 69.21,232.36 63.32,232.36" fill="#ff00ff"/>
<polygon points="71.90,234.32 74.85,229.36 68.96,229.36" fill="#ff00ff"/>
<polygon points="78.73,238.02 81.67,233.06 75.78,233.06" fill="#ff00ff"/>
<polygon points="86.99,236.81 89.93,231.85 84.04,231.85" fill="#ff00ff"/>
<polygon points="96.99,234.06 99.94,229.10 94.05,229.10" fill="#ff00ff"/>
<polygon points="109.10,234.43 112.04,229.47 106.15,229.47" fill="#ff00ff"/>
<polygon points="123.76,232.98 126.70,228.02 120.81,228.02" fill="#ff00ff"/>
<polygon points="141.50,232.92 144.45,227.96 138.56,227.96" fill="#ff00ff"/>
<polygon points="162.98,229.99 165.93,225.03 160.04,225.03" fill="#ff00ff"/>
<polygon points="188.99,229.79 191.93,224.83 186.04,224.83" fill="#ff00ff"/>
<polygon points="220.47,232.13 223.41,227.17 217.52,227.17" fill="#ff00ff"/>
<polygon points="258.58,230.28 261.53,225.32 255.64,225.32" fill="#ff00ff"/>
<polyline points="39.50,306.27 39.97,306.27 40.00,303.94 40.02,301.60 40.04,299.26 40.07,296.93 40.09,294.59 40.11,292.25 40.14,289.92 40.16,287.58 40.19,285.24 40.21,282.91 40.23,280.57 40.26,278.23 40.28,275.90 40.30,273.56 40.33,271.22 40.35,268.89 40.37,266.55 40.40,264.21 40.42,261.88 40.45,259.54 40.54,259.52 40.76,259.47 41.02,259.40 41.34,259.33 41.73,259.24 42.20,259.12 42.77,258.99 43.46,258.82 44.29,258.37 45.30,257.13 46.52,255.61 48.00,253.79 49.79,251.67 51.96,249.11 54.59,247.56 57.76,246.61 61.61,249.18 66.27,249.78 71.90,246.99 78.73,247.62 86.99,249.83 96.99,248.51 109.10,250.31 123.76,248.34 141.50,245.63 162.98,243.97 188.99,244.18 220.47,245.88 258.58,245.42" fill="none" stroke="#008000" stroke-width="1.85" stroke-linejoin="round"/>
<polygon points="39.97,303.07 42.37,306.27 39.97,309.47 37.57,306.27" fill="#008000"/>
<polygon points="40.00,300.74 42.40,303.94 40.00,307.14 37.60,303.94" fill="#008000"/>
<polygon points="40.02,298.40 42.42,301.60 40.02,304.80 37.62,301.60" fill="#008000"/>
<polygon points="40.04,296.06 42.44,299.26 40.04,302.46 37.64,299.26" fill="#008000"/>
<polygon points="40.07,293.73 42.47,296.93 40.07,300.13 37.67,296.93" fill="#008000"/>
<polygon points="40.09,291.39 42.49,294.59 40.09,297.79 37.69,294.59" fill="#008000"/>
<polygon points="40.11,289.05 42.51,292.25 40.11,295.45 37.71,292.25" fill="#008000"/>
<polygon points="40.14,286.72 42.54,289.92 40.14,293.12 37.74,289.92" fill="#008000"/>
<polygon points="40.16,284.38 42.56,287.58 40.16,290.78 37.76,287.58" fill="#008000"/>
<polygon points="40.19,282.04 42.59,285.24 40.19,288.44 37.79,285.24" fill="#008000"/>
<polygon points="40.21,279.71 42.61,282.91 40.21,286.11 37.81,282.91" fill="#008000"/>
<polygon points="40.23,277.37 42.63,280.57 40.23,283.77 37.83,280.57" fill="#008000"/>
<polygon points="40.26,275.03 42.66,278.23 40.26,281.43 37.86,278.23" fill="#008000"/>
<polygon points="40.28,272.70 42.68,275.90 40.28,279.10 37.88,275.90" fill="#008000"/>
<polygon points="40.30,270.36 42.70,273.56 40.30,276.76 37.90,273.56" fill="#008000"/>
<polygon points="40.33,268.02 42.73,271.22 40.33,274.42 37.93,271.22" fill="#008000"/>
<polygon points="40.35,265.69 42.75,268.89 40.35,272.09 37.95,268.89" fill="#008000"/>
<polygon points="40.37,263.35 42.77,266.55 40.37,269.75 37.97,266.55" fill="#008000"/>
<polygon points="40.40,261.01 42.80,264.21 40.40,267.41 38.00,264.21" fill="#008000"/>
<polygon points="40.42,258.68 42.82,261.88 40.42,265.08 38.02,261.88" fill="#008000"/>
<polygon points="40.45,256.34 42.85,259.54 40.45,262.74 38.05,259.54" fill="#008000"/>
<polygon points="40.54,256.32 42.94,259.52 40.54,262.72 38.14,259.52" fill="#008000"/>
<polygon points="40.76,256.27 43.16,259.47 40.76,262.67 38.36,259.47" fill="#008000"/>
<polygon points="41.02,256.20 43.42,259.40 41.02,262.60 38.62,259.40" fill="#008000"/>
<polygon points="41.34,256.13 43.74,259.33 41.34,262.53 38.94,259.33" fill="#008000"/>
<polygon points="41.73,256.04 44.13,259.24 41.73,262.44 39.33,259.24" fill="#008000"/>
<polygon points="42.20,255.92 44.60,259.12 42.20,262.32 39.80,259.12" fill="#008000"/>
<polygon points="42.77,255.79 45.17,258.99 42.77,262.19 40.37,258.99" fill="#008000"/>
<polygon points="43.46,255.62 45.86,258.82 43.46,262.02 41.06,258.82" fill="#008000"/>
<polygon points="44.29,255.17 46.69,258.37 44.29,261.57 41.89,258.37" fill="#008000"/>
<polygon points="45.30,253.93 47.70,257.13 45.30,260.33 42.90,257.13" fill="#008000"/>
<polygon points="46.52,252.41 48.92,255.61 46.52,258.81 44.12,255.61" fill="#008000"/>
<polygon points="48.00,250.59 50.40,253.79 48.00,256.99 45.60,253.79" fill="#008000"/>
<polygon points="49.79,248.47 52.19,251.67 49.79,254.87 47.39,251.67" fill="#008000"/>
<polygon points="51.96,245.91 54.36,249.11 51.96,252.31 49.56,249.11" fill="#008000"/>
<polygon points="54.59,244.36 56.99,247.56 54.59,250.76 52.19,247.56" fill="#008000"/>
<polygon points="57.76,243.41 60.16,246.61 57.76,249.81 55.36,246.61" fill="#008000"/>
<polygon points="61.61,245.98 64.01,249.18 61.61,252.38 59.21,249.18" fill="#008000"/>
<polygon points="66.27,246.58 68.67,249.78 66.27,252.98 63.87,249.78" fill="#008000"/>
<polygon points="71.90,243.79 74.30,246.99 71.90,250.19 69.50,246.99" fill="#008000"/>
<polygon points="78.73,244.42 81.13,247.62 78.73,250.82 76.33,247.62" fill="#008000"/>
<polygon points="86.99,246.63 89.39,249.83 86.99,253.03 84.59,249.83" fill="#008000"/>
<polygon points="96.99,245.31 99.39,248.51 96.99,251.71 94.59,248.51" fill="#008000"/>
<polygon points="109.10,247.11 111.50,250.31 109.10,253.51 106.70,250.31" fill="#008000"/>
<polygon points="123.76,245.14 126.16,248.34 123.76,251.54 121.36,248.34" fill="#008000"/>
<polygon points="141.50,242.43 143.90,245.63 141.50,248.83 139.10,245.63" fill="#008000"/>
<polygon points="162.98,240.77 165.38,243.97 162.98,247.17 160.58,243.97" fill="#008000"/>
<polygon points="188.99,240.98 191.39,244.18 188.99,247.38 186.59,244.18" fill="#008000"/>
<polygon points="220.47,242.68 222.87,245.88 220.47,249.08 218.07,245.88" fill="#008000"/>
<polygon points="258.58,242.22 260.98,245.42 258.58,248.62 256.18,245.42" fill="#008000"/>
</g>
<text x="39.50" y="351.40" text-anchor="middle" font-family="'Liberation Sans',Arial,sans-serif" font-weight="bold" font-size="11">0</text>
<text x="77.32" y="351.40" text-anchor="middle" font-family="'Liberation Sans',Arial,sans-serif" font-weight="bold" font-size="11">2</text>
<text x="115.14" y="351.40" text-anchor="middle" font-family="'Liberation Sans',Arial,sans-serif" font-weight="bold" font-size="11">4</text>
<text x="152.96" y="351.40" text-anchor="middle" font-family="'Liberation Sans',Arial,sans-serif" font-weight="bold" font-size="11">6</text>
<text x="190.78" y="351.40" text-anchor="middle" font-family="'Liberation Sans',Arial,sans-serif" font-weight="bold" font-size="11">8</text>
<text x="228.60" y="351.40" text-anchor="middle" font-family="'Liberation Sans',Arial,sans-serif" font-weight="bold" font-size="11">10</text>
<text x="36.00" y="343.60" text-anchor="end" font-family="'Liberation Sans',Arial,sans-serif" font-weight="bold" font-size="11">0</text>
<text x="36.00" y="300.92" text-anchor="end" font-family="'Liberation Sans',Arial,sans-serif" font-weight="bold" font-size="11">2</text>
<text x="36.00" y="258.25" text-anchor="end" font-family="'Liberation Sans',Arial,sans-serif" font-weight="bold" font-size="11">4</text>
<text x="36.00" y="215.57" text-anchor="end" font-family="'Liberation Sans',Arial,sans-serif" font-weight="bold" font-size="11">6</text>
<text x="84.90" y="196.60" font-family="'Liberation Serif','Times New Roman',serif" font-weight="bold" font-size="12" textLength="98.30" lengthAdjust="spacingAndGlyphs">GO-1.5wt% PDASA</text>
<text x="4.50" y="214.50" font-family="'Liberation Serif','Times New Roman',serif" font-weight="bold" font-size="16.5">(b)</text>
<text x="134.85" y="362.80" text-anchor="middle" font-family="'Liberation Serif','Times New Roman',serif" font-weight="bold" font-size="11">P/P<tspan font-size="7.5">0</tspan></text>
<text transform="translate(21.70,279.45) rotate(-90) scale(0.94,1)" text-anchor="middle" font-family="'Liberation Serif','Times New Roman',serif" font-weight="bold" font-size="11.9">Loading (mmol·g<tspan font-size="8" dy="-6" dx="0.6">-1</tspan><tspan dy="6">)</tspan></text>
<rect x="39.5" y="384.9" width="189.1" height="138.60000000000002" fill="none" stroke="#555555" stroke-width="1"/>
<path d="M39.50,523.5v-3M39.50,384.9v3M58.41,523.5v-1.5M58.41,384.9v1.5M77.32,523.5v-3M77.32,384.9v3M96.23,523.5v-1.5M96.23,384.9v1.5M115.14,523.5v-3M115.14,384.9v3M134.05,523.5v-1.5M134.05,384.9v1.5M152.96,523.5v-3M152.96,384.9v3M171.87,523.5v-1.5M171.87,384.9v1.5M190.78,523.5v-3M190.78,384.9v3M209.69,523.5v-1.5M209.69,384.9v1.5M228.60,523.5v-3M228.60,384.9v3M39.5,523.50h3M228.6,523.50h-3M39.5,502.18h1.5M228.6,502.18h-1.5M39.5,480.85h3M228.6,480.85h-3M39.5,459.53h1.5M228.6,459.53h-1.5M39.5,438.21h3M228.6,438.21h-3M39.5,416.88h1.5M228.6,416.88h-1.5M39.5,395.56h3M228.6,395.56h-3" stroke="#555555" stroke-width="1" fill="none"/>
<g clip-path="url(#c2)">
<polyline points="39.50,523.50 39.73,523.47 39.77,523.46 39.83,523.45 39.90,523.44 39.98,523.43 40.09,523.41 40.21,523.39 40.36,523.37 40.54,523.34 40.76,523.31 41.02,523.27 41.34,523.22 41.73,523.16 42.20,523.09 42.77,522.81 43.46,522.39 44.29,521.88 45.30,521.26 46.52,520.52 48.00,519.88 49.79,519.20 51.96,518.39 54.59,517.20 57.76,515.75 61.61,514.83 66.27,513.71 71.90,512.44 78.73,511.42 86.99,509.47 96.99,507.51 109.10,505.02 123.76,502.40 141.50,499.90 162.98,497.76 188.99,493.84 220.47,491.95 258.58,490.55" fill="none" stroke="#000000" stroke-width="1.85" stroke-linejoin="round"/>
<rect x="37.53" y="521.27" width="4.40" height="4.40" fill="#000000"/>
<rect x="37.57" y="521.26" width="4.40" height="4.40" fill="#000000"/>
<rect x="37.63" y="521.25" width="4.40" height="4.40" fill="#000000"/>
<rect x="37.70" y="521.24" width="4.40" height="4.40" fill="#000000"/>
<rect x="37.78" y="521.23" width="4.40" height="4.40" fill="#000000"/>
<rect x="37.89" y="521.21" width="4.40" height="4.40" fill="#000000"/>
<rect x="38.01" y="521.19" width="4.40" height="4.40" fill="#000000"/>
<rect x="38.16" y="521.17" width="4.40" height="4.40" fill="#000000"/>
<rect x="38.34" y="521.14" width="4.40" height="4.40" fill="#000000"/>
<rect x="38.56" y="521.11" width="4.40" height="4.40" fill="#000000"/>
<rect x="38.82" y="521.07" width="4.40" height="4.40" fill="#000000"/>
<rect x="39.14" y="521.02" width="4.40" height="4.40" fill="#000000"/>
<rect x="39.53" y="520.96" width="4.40" height="4.40" fill="#000000"/>
<rect x="40.00" y="520.89" width="4.40" height="4.40" fill="#000000"/>
<rect x="40.57" y="520.61" width="4.40" height="4.40" fill="#000000"/>
<rect x="41.26" y="520.19" width="4.40" height="4.40" fill="#000000"/>
<rect x="42.09" y="519.68" width="4.40" height="4.40" fill="#000000"/>
<rect x="43.10" y="519.06" width="4.40" height="4.40" fill="#000000"/>
<rect x="44.32" y="518.32" width="4.40" height="4.40" fill="#000000"/>
<rect x="45.80" y="517.68" width="4.40" height="4.40" fill="#000000"/>
<rect x="47.59" y="517.00" width="4.40" height="4.40" fill="#000000"/>
<rect x="49.76" y="516.19" width="4.40" height="4.40" fill="#000000"/>
<rect x="52.39" y="515.00" width="4.40" height="4.40" fill="#000000"/>
<rect x="55.56" y="513.55" width="4.40" height="4.40" fill="#000000"/>
<rect x="59.41" y="512.63" width="4.40" height="4.40" fill="#000000"/>
<rect x="64.07" y="511.51" width="4.40" height="4.40" fill="#000000"/>
<rect x="69.70" y="510.24" width="4.40" height="4.40" fill="#000000"/>
<rect x="76.53" y="509.22" width="4.40" height="4.40" fill="#000000"/>
<rect x="84.79" y="507.27" width="4.40" height="4.40" fill="#000000"/>
<rect x="94.79" y="505.31" width="4.40" height="4.40" fill="#000000"/>
<rect x="106.90" y="502.82" width="4.40" height="4.40" fill="#000000"/>
<rect x="121.56" y="500.20" width="4.40" height="4.40" fill="#000000"/>
<rect x="139.30" y="497.70" width="4.40" height="4.40" fill="#000000"/>
<rect x="160.78" y="495.56" width="4.40" height="4.40" fill="#000000"/>
<rect x="186.79" y="491.64" width="4.40" height="4.40" fill="#000000"/>
<rect x="218.27" y="489.75" width="4.40" height="4.40" fill="#000000"/>
<rect x="256.38" y="488.35" width="4.40" height="4.40" fill="#000000"/>
<polyline points="39.50,523.50 39.73,523.14 39.77,523.07 39.83,522.98 39.90,522.87 39.98,522.74 40.09,522.58 40.21,522.38 40.36,522.15 40.54,521.92 40.76,521.72 41.02,521.47 41.34,521.17 41.73,520.81 42.20,520.38 42.77,519.85 43.46,519.21 44.29,518.18 45.30,516.84 46.52,515.22 48.00,513.59 49.79,511.74 51.96,509.68 54.59,507.85 57.76,505.76 61.61,503.67 66.27,500.95 71.90,498.39 78.73,495.75 86.99,492.43 96.99,489.38 109.10,486.07 123.76,482.16 141.50,479.64 162.98,476.88 188.99,473.79 220.47,471.27 258.58,470.33" fill="none" stroke="#ff0000" stroke-width="1.85" stroke-linejoin="round"/>
<circle cx="39.73" cy="523.14" r="2.60" fill="#ff0000"/>
<circle cx="39.77" cy="523.07" r="2.60" fill="#ff0000"/>
<circle cx="39.83" cy="522.98" r="2.60" fill="#ff0000"/>
<circle cx="39.90" cy="522.87" r="2.60" fill="#ff0000"/>
<circle cx="39.98" cy="522.74" r="2.60" fill="#ff0000"/>
<circle cx="40.09" cy="522.58" r="2.60" fill="#ff0000"/>
<circle cx="40.21" cy="522.38" r="2.60" fill="#ff0000"/>
<circle cx="40.36" cy="522.15" r="2.60" fill="#ff0000"/>
<circle cx="40.54" cy="521.92" r="2.60" fill="#ff0000"/>
<circle cx="40.76" cy="521.72" r="2.60" fill="#ff0000"/>
<circle cx="41.02" cy="521.47" r="2.60" fill="#ff0000"/>
<circle cx="41.34" cy="521.17" r="2.60" fill="#ff0000"/>
<circle cx="41.73" cy="520.81" r="2.60" fill="#ff0000"/>
<circle cx="42.20" cy="520.38" r="2.60" fill="#ff0000"/>
<circle cx="42.77" cy="519.85" r="2.60" fill="#ff0000"/>
<circle cx="43.46" cy="519.21" r="2.60" fill="#ff0000"/>
<circle cx="44.29" cy="518.18" r="2.60" fill="#ff0000"/>
<circle cx="45.30" cy="516.84" r="2.60" fill="#ff0000"/>
<circle cx="46.52" cy="515.22" r="2.60" fill="#ff0000"/>
<circle cx="48.00" cy="513.59" r="2.60" fill="#ff0000"/>
<circle cx="49.79" cy="511.74" r="2.60" fill="#ff0000"/>
<circle cx="51.96" cy="509.68" r="2.60" fill="#ff0000"/>
<circle cx="54.59" cy="507.85" r="2.60" fill="#ff0000"/>
<circle cx="57.76" cy="505.76" r="2.60" fill="#ff0000"/>
<circle cx="61.61" cy="503.67" r="2.60" fill="#ff0000"/>
<circle cx="66.27" cy="500.95" r="2.60" fill="#ff0000"/>
<circle cx="71.90" cy="498.39" r="2.60" fill="#ff0000"/>
<circle cx="78.73" cy="495.75" r="2.60" fill="#ff0000"/>
<circle cx="86.99" cy="492.43" r="2.60" fill="#ff0000"/>
<circle cx="96.99" cy="489.38" r="2.60" fill="#ff0000"/>
<circle cx="109.10" cy="486.07" r="2.60" fill="#ff0000"/>
<circle cx="123.76" cy="482.16" r="2.60" fill="#ff0000"/>
<circle cx="141.50" cy="479.64" r="2.60" fill="#ff0000"/>
<circle cx="162.98" cy="476.88" r="2.60" fill="#ff0000"/>
<circle cx="188.99" cy="473.79" r="2.60" fill="#ff0000"/>
<circle cx="220.47" cy="471.27" r="2.60" fill="#ff0000"/>
<circle cx="258.58" cy="470.33" r="2.60" fill="#ff0000"/>
<polyline points="39.50,523.50 39.97,523.50 40.00,523.50 40.02,523.50 40.04,523.50 40.07,523.50 40.09,523.50 40.11,523.50 40.14,523.50 40.16,523.50 40.19,523.50 40.21,523.50 40.23,523.50 40.26,523.50 40.28,523.50 40.30,523.50 40.33,523.50 40.35,523.50 40.37,523.50 40.40,523.50 40.42,523.50 40.45,523.50 40.54,498.22 40.76,494.64 41.02,490.66 41.34,485.84 41.73,482.82 42.20,479.64 42.77,474.32 43.46,467.46 44.29,459.63 45.30,452.28 46.52,449.01 48.00,445.05 49.79,441.64 51.96,437.63 54.59,432.98 57.76,427.79 61.61,421.60 66.27,421.94 71.90,419.09 78.73,417.18 86.99,414.10 96.99,415.11 109.10,409.30 123.76,409.84 141.50,407.59 162.98,407.24 188.99,404.94 220.47,402.17 258.58,402.17" fill="none" stroke="#0000ff" stroke-width="1.85" stroke-linejoin="round"/>
<polygon points="39.97,520.40 42.92,525.36 37.03,525.36" fill="#0000ff"/>
<polygon points="40.00,520.40 42.94,525.36 37.05,525.36" fill="#0000ff"/>
<polygon points="40.02,520.40 42.97,525.36 37.08,525.36" fill="#0000ff"/>
<polygon points="40.04,520.40 42.99,525.36 37.10,525.36" fill="#0000ff"/>
<polygon points="40.07,520.40 43.01,525.36 37.12,525.36" fill="#0000ff"/>
<polygon points="40.09,520.40 43.04,525.36 37.15,525.36" fill="#0000ff"/>
<polygon points="40.11,520.40 43.06,525.36 37.17,525.36" fill="#0000ff"/>
<polygon points="40.14,520.40 43.08,525.36 37.19,525.36" fill="#0000ff"/>
<polygon points="40.16,520.40 43.11,525.36 37.22,525.36" fill="#0000ff"/>
<polygon points="40.19,520.40 43.13,525.36 37.24,525.36" fill="#0000ff"/>
<polygon points="40.21,520.40 43.15,525.36 37.26,525.36" fill="#0000ff"/>
<polygon points="40.23,520.40 43.18,525.36 37.29,525.36" fill="#0000ff"/>
<polygon points="40.26,520.40 43.20,525.36 37.31,525.36" fill="#0000ff"/>
<polygon points="40.28,520.40 43.23,525.36 37.34,525.36" fill="#0000ff"/>
<polygon points="40.30,520.40 43.25,525.36 37.36,525.36" fill="#0000ff"/>
<polygon points="40.33,520.40 43.27,525.36 37.38,525.36" fill="#0000ff"/>
<polygon points="40.35,520.40 43.30,525.36 37.41,525.36" fill="#0000ff"/>
<polygon points="40.37,520.40 43.32,525.36 37.43,525.36" fill="#0000ff"/>
<polygon points="40.40,520.40 43.34,525.36 37.45,525.36" fill="#0000ff"/>
<polygon points="40.42,520.40 43.37,525.36 37.48,525.36" fill="#0000ff"/>
<polygon points="40.45,520.40 43.39,525.36 37.50,525.36" fill="#0000ff"/>
<polygon points="40.54,495.12 43.48,500.08 37.59,500.08" fill="#0000ff"/>
<polygon points="40.76,491.54 43.70,496.50 37.81,496.50" fill="#0000ff"/>
<polygon points="41.02,487.56 43.97,492.52 38.08,492.52" fill="#0000ff"/>
<polygon points="41.34,482.74 44.29,487.70 38.40,487.70" fill="#0000ff"/>
<polygon points="41.73,479.72 44.68,484.68 38.79,484.68" fill="#0000ff"/>
<polygon points="42.20,476.54 45.15,481.50 39.26,481.50" fill="#0000ff"/>
<polygon points="42.77,471.22 45.72,476.18 39.83,476.18" fill="#0000ff"/>
<polygon points="43.46,464.36 46.40,469.32 40.51,469.32" fill="#0000ff"/>
<polygon points="44.29,456.53 47.24,461.49 41.35,461.49" fill="#0000ff"/>
<polygon points="45.30,449.18 48.25,454.14 42.36,454.14" fill="#0000ff"/>
<polygon points="46.52,445.91 49.47,450.87 43.58,450.87" fill="#0000ff"/>
<polygon points="48.00,441.95 50.95,446.91 45.06,446.91" fill="#0000ff"/>
<polygon points="49.79,438.54 52.74,443.50 46.85,443.50" fill="#0000ff"/>
<polygon points="51.96,434.53 54.91,439.49 49.02,439.49" fill="#0000ff"/>
<polygon points="54.59,429.88 57.53,434.84 51.64,434.84" fill="#0000ff"/>
<polygon points="57.76,424.69 60.71,429.65 54.82,429.65" fill="#0000ff"/>
<polygon points="61.61,418.50 64.56,423.46 58.67,423.46" fill="#0000ff"/>
<polygon points="66.27,418.84 69.21,423.80 63.32,423.80" fill="#0000ff"/>
<polygon points="71.90,415.99 74.85,420.95 68.96,420.95" fill="#0000ff"/>
<polygon points="78.73,414.08 81.67,419.04 75.78,419.04" fill="#0000ff"/>
<polygon points="86.99,411.00 89.93,415.96 84.04,415.96" fill="#0000ff"/>
<polygon points="96.99,412.01 99.94,416.97 94.05,416.97" fill="#0000ff"/>
<polygon points="109.10,406.20 112.04,411.16 106.15,411.16" fill="#0000ff"/>
<polygon points="123.76,406.74 126.70,411.70 120.81,411.70" fill="#0000ff"/>
<polygon points="141.50,404.49 144.45,409.45 138.56,409.45" fill="#0000ff"/>
<polygon points="162.98,404.14 165.93,409.10 160.04,409.10" fill="#0000ff"/>
<polygon points="188.99,401.84 191.93,406.80 186.04,406.80" fill="#0000ff"/>
<polygon points="220.47,399.07 223.41,404.03 217.52,404.03" fill="#0000ff"/>
<polygon points="258.58,399.07 261.53,404.03 255.64,404.03" fill="#0000ff"/>
<polyline points="39.50,523.50 39.97,523.50 40.00,520.00 40.02,516.51 40.04,513.01 40.07,509.51 40.09,506.02 40.11,502.52 40.14,499.02 40.16,495.52 40.19,492.03 40.21,488.53 40.23,485.03 40.26,481.54 40.28,478.04 40.30,474.54 40.33,471.05 40.35,467.55 40.37,464.05 40.40,460.55 40.42,457.06 40.45,453.56 40.54,451.56 40.76,446.87 41.02,441.34 41.34,439.08 41.73,436.34 42.20,433.03 42.77,430.39 43.46,429.40 44.29,428.20 45.30,426.74 46.52,425.42 48.00,424.36 49.79,422.99 51.96,420.66 54.59,417.95 57.76,414.85 61.61,411.54 66.27,409.09 71.90,410.88 78.73,407.78 86.99,405.92 96.99,407.41 109.10,401.41 123.76,396.87 141.50,401.77 162.98,398.28 188.99,395.98 220.47,393.43 258.58,393.43" fill="none" stroke="#ff00ff" stroke-width="1.85" stroke-linejoin="round"/>
<polygon points="39.97,526.60 42.92,521.64 37.03,521.64" fill="#ff00ff"/>
<polygon points="40.00,523.10 42.94,518.14 37.05,518.14" fill="#ff00ff"/>
<polygon points="40.02,519.61 42.97,514.65 37.08,514.65" fill="#ff00ff"/>
<polygon points="40.04,516.11 42.99,511.15 37.10,511.15" fill="#ff00ff"/>
<polygon points="40.07,512.61 43.01,507.65 37.12,507.65" fill="#ff00ff"/>
<polygon points="40.09,509.12 43.04,504.16 37.15,504.16" fill="#ff00ff"/>
<polygon points="40.11,505.62 43.06,500.66 37.17,500.66" fill="#ff00ff"/>
<polygon points="40.14,502.12 43.08,497.16 37.19,497.16" fill="#ff00ff"/>
<polygon points="40.16,498.62 43.11,493.66 37.22,493.66" fill="#ff00ff"/>
<polygon points="40.19,495.13 43.13,490.17 37.24,490.17" fill="#ff00ff"/>
<polygon points="40.21,491.63 43.15,486.67 37.26,486.67" fill="#ff00ff"/>
<polygon points="40.23,488.13 43.18,483.17 37.29,483.17" fill="#ff00ff"/>
<polygon points="40.26,484.64 43.20,479.68 37.31,479.68" fill="#ff00ff"/>
<polygon points="40.28,481.14 43.23,476.18 37.34,476.18" fill="#ff00ff"/>
<polygon points="40.30,477.64 43.25,472.68 37.36,472.68" fill="#ff00ff"/>
<polygon points="40.33,474.15 43.27,469.19 37.38,469.19" fill="#ff00ff"/>
<polygon points="40.35,470.65 43.30,465.69 37.41,465.69" fill="#ff00ff"/>
<polygon points="40.37,467.15 43.32,462.19 37.43,462.19" fill="#ff00ff"/>
<polygon points="40.40,463.65 43.34,458.69 37.45,458.69" fill="#ff00ff"/>
<polygon points="40.42,460.16 43.37,455.20 37.48,455.20" fill="#ff00ff"/>
<polygon points="40.45,456.66 43.39,451.70 37.50,451.70" fill="#ff00ff"/>
<polygon points="40.54,454.66 43.48,449.70 37.59,449.70" fill="#ff00ff"/>
<polygon points="40.76,449.97 43.70,445.01 37.81,445.01" fill="#ff00ff"/>
<polygon points="41.02,444.44 43.97,439.48 38.08,439.48" fill="#ff00ff"/>
<polygon points="41.34,442.18 44.29,437.22 38.40,437.22" fill="#ff00ff"/>
<polygon points="41.73,439.44 44.68,434.48 38.79,434.48" fill="#ff00ff"/>
<polygon points="42.20,436.13 45.15,431.17 39.26,431.17" fill="#ff00ff"/>
<polygon points="42.77,433.49 45.72,428.53 39.83,428.53" fill="#ff00ff"/>
<polygon points="43.46,432.50 46.40,427.54 40.51,427.54" fill="#ff00ff"/>
<polygon points="44.29,431.30 47.24,426.34 41.35,426.34" fill="#ff00ff"/>
<polygon points="45.30,429.84 48.25,424.88 42.36,424.88" fill="#ff00ff"/>
<polygon points="46.52,428.52 49.47,423.56 43.58,423.56" fill="#ff00ff"/>
<polygon points="48.00,427.46 50.95,422.50 45.06,422.50" fill="#ff00ff"/>
<polygon points="49.79,426.09 52.74,421.13 46.85,421.13" fill="#ff00ff"/>
<polygon points="51.96,423.76 54.91,418.80 49.02,418.80" fill="#ff00ff"/>
<polygon points="54.59,421.05 57.53,416.09 51.64,416.09" fill="#ff00ff"/>
<polygon points="57.76,417.95 60.71,412.99 54.82,412.99" fill="#ff00ff"/>
<polygon points="61.61,414.64 64.56,409.68 58.67,409.68" fill="#ff00ff"/>
<polygon points="66.27,412.19 69.21,407.23 63.32,407.23" fill="#ff00ff"/>
<polygon points="71.90,413.98 74.85,409.02 68.96,409.02" fill="#ff00ff"/>
<polygon points="78.73,410.88 81.67,405.92 75.78,405.92" fill="#ff00ff"/>
<polygon points="86.99,409.02 89.93,404.06 84.04,404.06" fill="#ff00ff"/>
<polygon points="96.99,410.51 99.94,405.55 94.05,405.55" fill="#ff00ff"/>
<polygon points="109.10,404.51 112.04,399.55 106.15,399.55" fill="#ff00ff"/>
<polygon points="123.76,399.97 126.70,395.01 120.81,395.01" fill="#ff00ff"/>
<polygon points="141.50,404.87 144.45,399.91 138.56,399.91" fill="#ff00ff"/>
<polygon points="162.98,401.38 165.93,396.42 160.04,396.42" fill="#ff00ff"/>
<polygon points="188.99,399.08 191.93,394.12 186.04,394.12" fill="#ff00ff"/>
<polygon points="220.47,396.53 223.41,391.57 217.52,391.57" fill="#ff00ff"/>
<polygon points="258.58,396.53 261.53,391.57 255.64,391.57" fill="#ff00ff"/>
<polyline points="39.50,511.35 39.97,511.35 40.00,507.65 40.02,503.95 40.04,500.26 40.07,496.56 40.09,492.86 40.11,489.16 40.14,485.47 40.16,481.77 40.19,478.07 40.21,474.38 40.23,470.68 40.26,466.98 40.28,463.29 40.30,459.59 40.33,455.89 40.35,452.20 40.37,448.50 40.40,444.80 40.42,441.10 40.45,437.41 40.54,436.22 40.76,434.83 41.02,434.45 41.34,433.99 41.73,433.43 42.20,432.75 42.77,431.93 43.46,430.94 44.29,429.95 45.30,429.34 46.52,428.60 48.00,427.70 49.79,427.08 51.96,426.98 54.59,426.61 57.76,425.74 61.61,425.38 66.27,426.67 71.90,422.10 78.73,416.28 86.99,418.83 96.99,421.23 109.10,419.89 123.76,419.02 141.50,420.45 162.98,417.37 188.99,420.30 220.47,420.30 258.58,417.06" fill="none" stroke="#008000" stroke-width="1.85" stroke-linejoin="round"/>
<polygon points="39.97,508.15 42.37,511.35 39.97,514.55 37.57,511.35" fill="#008000"/>
<polygon points="40.00,504.45 42.40,507.65 40.00,510.85 37.60,507.65" fill="#008000"/>
<polygon points="40.02,500.75 42.42,503.95 40.02,507.15 37.62,503.95" fill="#008000"/>
<polygon points="40.04,497.06 42.44,500.26 40.04,503.46 37.64,500.26" fill="#008000"/>
<polygon points="40.07,493.36 42.47,496.56 40.07,499.76 37.67,496.56" fill="#008000"/>
<polygon points="40.09,489.66 42.49,492.86 40.09,496.06 37.69,492.86" fill="#008000"/>
<polygon points="40.11,485.96 42.51,489.16 40.11,492.36 37.71,489.16" fill="#008000"/>
<polygon points="40.14,482.27 42.54,485.47 40.14,488.67 37.74,485.47" fill="#008000"/>
<polygon points="40.16,478.57 42.56,481.77 40.16,484.97 37.76,481.77" fill="#008000"/>
<polygon points="40.19,474.87 42.59,478.07 40.19,481.27 37.79,478.07" fill="#008000"/>
<polygon points="40.21,471.18 42.61,474.38 40.21,477.58 37.81,474.38" fill="#008000"/>
<polygon points="40.23,467.48 42.63,470.68 40.23,473.88 37.83,470.68" fill="#008000"/>
<polygon points="40.26,463.78 42.66,466.98 40.26,470.18 37.86,466.98" fill="#008000"/>
<polygon points="40.28,460.09 42.68,463.29 40.28,466.49 37.88,463.29" fill="#008000"/>
<polygon points="40.30,456.39 42.70,459.59 40.30,462.79 37.90,459.59" fill="#008000"/>
<polygon points="40.33,452.69 42.73,455.89 40.33,459.09 37.93,455.89" fill="#008000"/>
<polygon points="40.35,449.00 42.75,452.20 40.35,455.40 37.95,452.20" fill="#008000"/>
<polygon points="40.37,445.30 42.77,448.50 40.37,451.70 37.97,448.50" fill="#008000"/>
<polygon points="40.40,441.60 42.80,444.80 40.40,448.00 38.00,444.80" fill="#008000"/>
<polygon points="40.42,437.90 42.82,441.10 40.42,444.30 38.02,441.10" fill="#008000"/>
<polygon points="40.45,434.21 42.85,437.41 40.45,440.61 38.05,437.41" fill="#008000"/>
<polygon points="40.54,433.02 42.94,436.22 40.54,439.42 38.14,436.22" fill="#008000"/>
<polygon points="40.76,431.63 43.16,434.83 40.76,438.03 38.36,434.83" fill="#008000"/>
<polygon points="41.02,431.25 43.42,434.45 41.02,437.65 38.62,434.45" fill="#008000"/>
<polygon points="41.34,430.79 43.74,433.99 41.34,437.19 38.94,433.99" fill="#008000"/>
<polygon points="41.73,430.23 44.13,433.43 41.73,436.63 39.33,433.43" fill="#008000"/>
<polygon points="42.20,429.55 44.60,432.75 42.20,435.95 39.80,432.75" fill="#008000"/>
<polygon points="42.77,428.73 45.17,431.93 42.77,435.13 40.37,431.93" fill="#008000"/>
<polygon points="43.46,427.74 45.86,430.94 43.46,434.14 41.06,430.94" fill="#008000"/>
<polygon points="44.29,426.75 46.69,429.95 44.29,433.15 41.89,429.95" fill="#008000"/>
<polygon points="45.30,426.14 47.70,429.34 45.30,432.54 42.90,429.34" fill="#008000"/>
<polygon points="46.52,425.40 48.92,428.60 46.52,431.80 44.12,428.60" fill="#008000"/>
<polygon points="48.00,424.50 50.40,427.70 48.00,430.90 45.60,427.70" fill="#008000"/>
<polygon points="49.79,423.88 52.19,427.08 49.79,430.28 47.39,427.08" fill="#008000"/>
<polygon points="51.96,423.78 54.36,426.98 51.96,430.18 49.56,426.98" fill="#008000"/>
<polygon points="54.59,423.41 56.99,426.61 54.59,429.81 52.19,426.61" fill="#008000"/>
<polygon points="57.76,422.54 60.16,425.74 57.76,428.94 55.36,425.74" fill="#008000"/>
<polygon points="61.61,422.18 64.01,425.38 61.61,428.58 59.21,425.38" fill="#008000"/>
<polygon points="66.27,423.47 68.67,426.67 66.27,429.87 63.87,426.67" fill="#008000"/>
<polygon points="71.90,418.90 74.30,422.10 71.90,425.30 69.50,422.10" fill="#008000"/>
<polygon points="78.73,413.08 81.13,416.28 78.73,419.48 76.33,416.28" fill="#008000"/>
<polygon points="86.99,415.63 89.39,418.83 86.99,422.03 84.59,418.83" fill="#008000"/>
<polygon points="96.99,418.03 99.39,421.23 96.99,424.43 94.59,421.23" fill="#008000"/>
<polygon points="109.10,416.69 111.50,419.89 109.10,423.09 106.70,419.89" fill="#008000"/>
<polygon points="123.76,415.82 126.16,419.02 123.76,422.22 121.36,419.02" fill="#008000"/>
<polygon points="141.50,417.25 143.90,420.45 141.50,423.65 139.10,420.45" fill="#008000"/>
<polygon points="162.98,414.17 165.38,417.37 162.98,420.57 160.58,417.37" fill="#008000"/>
<polygon points="188.99,417.10 191.39,420.30 188.99,423.50 186.59,420.30" fill="#008000"/>
<polygon points="220.47,417.10 222.87,420.30 220.47,423.50 218.07,420.30" fill="#008000"/>
<polygon points="258.58,413.86 260.98,417.06 258.58,420.26 256.18,417.06" fill="#008000"/>
</g>
<text x="39.50" y="534.70" text-anchor="middle" font-family="'Liberation Sans',Arial,sans-serif" font-weight="bold" font-size="11">0</text>
<text x="77.32" y="534.70" text-anchor="middle" font-family="'Liberation Sans',Arial,sans-serif" font-weight="bold" font-size="11">2</text>
<text x="115.14" y="534.70" text-anchor="middle" font-family="'Liberation Sans',Arial,sans-serif" font-weight="bold" font-size="11">4</text>
<text x="152.96" y="534.70" text-anchor="middle" font-family="'Liberation Sans',Arial,sans-serif" font-weight="bold" font-size="11">6</text>
<text x="190.78" y="534.70" text-anchor="middle" font-family="'Liberation Sans',Arial,sans-serif" font-weight="bold" font-size="11">8</text>
<text x="228.60" y="534.70" text-anchor="middle" font-family="'Liberation Sans',Arial,sans-serif" font-weight="bold" font-size="11">10</text>
<text x="36.00" y="526.90" text-anchor="end" font-family="'Liberation Sans',Arial,sans-serif" font-weight="bold" font-size="11">0</text>
<text x="36.00" y="484.25" text-anchor="end" font-family="'Liberation Sans',Arial,sans-serif" font-weight="bold" font-size="11">2</text>
<text x="36.00" y="441.61" text-anchor="end" font-family="'Liberation Sans',Arial,sans-serif" font-weight="bold" font-size="11">4</text>
<text x="36.00" y="398.96" text-anchor="end" font-family="'Liberation Sans',Arial,sans-serif" font-weight="bold" font-size="11">6</text>
<text x="84.90" y="380.00" font-family="'Liberation Serif','Times New Roman',serif" font-weight="bold" font-size="12" textLength="98.30" lengthAdjust="spacingAndGlyphs">GO-3.0wt% PDASA</text>
<text x="4.50" y="399.30" font-family="'Liberation Serif','Times New Roman',serif" font-weight="bold" font-size="16.5">(c)</text>
<text x="134.85" y="546.10" text-anchor="middle" font-family="'Liberation Serif','Times New Roman',serif" font-weight="bold" font-size="11">P/P<tspan font-size="7.5">0</tspan></text>
<text transform="translate(21.70,462.80) rotate(-90) scale(0.94,1)" text-anchor="middle" font-family="'Liberation Serif','Times New Roman',serif" font-weight="bold" font-size="11.9">Loading (mmol·g<tspan font-size="8" dy="-6" dx="0.6">-1</tspan><tspan dy="6">)</tspan></text>
<rect x="292.7" y="17.4" width="188.8" height="139.1" fill="none" stroke="#555555" stroke-width="1"/>
<path d="M292.70,156.5v-3M292.70,17.4v3M311.58,156.5v-1.5M311.58,17.4v1.5M330.46,156.5v-3M330.46,17.4v3M349.34,156.5v-1.5M349.34,17.4v1.5M368.22,156.5v-3M368.22,17.4v3M387.10,156.5v-1.5M387.10,17.4v1.5M405.98,156.5v-3M405.98,17.4v3M424.86,156.5v-1.5M424.86,17.4v1.5M443.74,156.5v-3M443.74,17.4v3M462.62,156.5v-1.5M462.62,17.4v1.5M481.50,156.5v-3M481.50,17.4v3M292.7,156.50h3M481.5,156.50h-3M292.7,135.10h1.5M481.5,135.10h-1.5M292.7,113.70h3M481.5,113.70h-3M292.7,92.30h1.5M481.5,92.30h-1.5M292.7,70.90h3M481.5,70.90h-3M292.7,49.50h1.5M481.5,49.50h-1.5M292.7,28.10h3M481.5,28.10h-3" stroke="#555555" stroke-width="1" fill="none"/>
<g clip-path="url(#c3)">
<polyline points="292.70,156.50 292.92,156.42 292.97,156.41 293.03,156.39 293.10,156.36 293.18,156.34 293.28,156.30 293.41,156.26 293.56,156.21 293.74,156.15 293.96,156.07 294.22,155.98 294.54,155.87 294.93,155.61 295.40,155.26 295.97,154.85 296.65,154.34 297.49,153.73 298.49,153.26 299.71,152.82 301.19,152.30 302.98,151.66 305.14,150.92 307.76,150.09 310.94,149.08 314.78,148.18 319.42,147.34 325.05,145.40 331.87,143.97 340.11,141.94 350.10,139.59 362.19,137.24 376.82,134.90 394.54,132.55 415.99,129.52 441.95,126.78 473.38,123.79 511.43,121.88" fill="none" stroke="#000000" stroke-width="1.85" stroke-linejoin="round"/>
<rect x="290.72" y="154.22" width="4.40" height="4.40" fill="#000000"/>
<rect x="290.77" y="154.21" width="4.40" height="4.40" fill="#000000"/>
<rect x="290.83" y="154.19" width="4.40" height="4.40" fill="#000000"/>
<rect x="290.90" y="154.16" width="4.40" height="4.40" fill="#000000"/>
<rect x="290.98" y="154.14" width="4.40" height="4.40" fill="#000000"/>
<rect x="291.08" y="154.10" width="4.40" height="4.40" fill="#000000"/>
<rect x="291.21" y="154.06" width="4.40" height="4.40" fill="#000000"/>
<rect x="291.36" y="154.01" width="4.40" height="4.40" fill="#000000"/>
<rect x="291.54" y="153.95" width="4.40" height="4.40" fill="#000000"/>
<rect x="291.76" y="153.87" width="4.40" height="4.40" fill="#000000"/>
<rect x="292.02" y="153.78" width="4.40" height="4.40" fill="#000000"/>
<rect x="292.34" y="153.67" width="4.40" height="4.40" fill="#000000"/>
<rect x="292.73" y="153.41" width="4.40" height="4.40" fill="#000000"/>
<rect x="293.20" y="153.06" width="4.40" height="4.40" fill="#000000"/>
<rect x="293.77" y="152.65" width="4.40" height="4.40" fill="#000000"/>
<rect x="294.45" y="152.14" width="4.40" height="4.40" fill="#000000"/>
<rect x="295.29" y="151.53" width="4.40" height="4.40" fill="#000000"/>
<rect x="296.29" y="151.06" width="4.40" height="4.40" fill="#000000"/>
<rect x="297.51" y="150.62" width="4.40" height="4.40" fill="#000000"/>
<rect x="298.99" y="150.10" width="4.40" height="4.40" fill="#000000"/>
<rect x="300.78" y="149.46" width="4.40" height="4.40" fill="#000000"/>
<rect x="302.94" y="148.72" width="4.40" height="4.40" fill="#000000"/>
<rect x="305.56" y="147.89" width="4.40" height="4.40" fill="#000000"/>
<rect x="308.74" y="146.88" width="4.40" height="4.40" fill="#000000"/>
<rect x="312.58" y="145.98" width="4.40" height="4.40" fill="#000000"/>
<rect x="317.22" y="145.14" width="4.40" height="4.40" fill="#000000"/>
<rect x="322.85" y="143.20" width="4.40" height="4.40" fill="#000000"/>
<rect x="329.67" y="141.77" width="4.40" height="4.40" fill="#000000"/>
<rect x="337.91" y="139.74" width="4.40" height="4.40" fill="#000000"/>
<rect x="347.90" y="137.39" width="4.40" height="4.40" fill="#000000"/>
<rect x="359.99" y="135.04" width="4.40" height="4.40" fill="#000000"/>
<rect x="374.62" y="132.70" width="4.40" height="4.40" fill="#000000"/>
<rect x="392.34" y="130.35" width="4.40" height="4.40" fill="#000000"/>
<rect x="413.79" y="127.32" width="4.40" height="4.40" fill="#000000"/>
<rect x="439.75" y="124.58" width="4.40" height="4.40" fill="#000000"/>
<rect x="471.18" y="121.59" width="4.40" height="4.40" fill="#000000"/>
<rect x="509.23" y="119.68" width="4.40" height="4.40" fill="#000000"/>
<polyline points="292.70,156.50 292.92,155.89 292.97,155.76 293.03,155.60 293.10,155.41 293.18,155.19 293.28,154.91 293.41,154.57 293.56,154.17 293.74,153.70 293.96,153.15 294.22,152.48 294.54,151.67 294.93,150.70 295.40,149.60 295.97,149.06 296.65,148.41 297.49,147.62 298.49,146.66 299.71,145.50 301.19,144.09 302.98,142.96 305.14,141.59 307.76,139.94 310.94,138.09 314.78,135.85 319.42,133.14 325.05,130.21 331.87,127.20 340.11,123.75 350.10,120.97 362.19,118.19 376.82,115.21 394.54,112.65 415.99,110.04 441.95,107.10 473.38,104.53 511.43,104.03" fill="none" stroke="#ff0000" stroke-width="1.85" stroke-linejoin="round"/>
<circle cx="292.92" cy="155.89" r="2.60" fill="#ff0000"/>
<circle cx="292.97" cy="155.76" r="2.60" fill="#ff0000"/>
<circle cx="293.03" cy="155.60" r="2.60" fill="#ff0000"/>
<circle cx="293.10" cy="155.41" r="2.60" fill="#ff0000"/>
<circle cx="293.18" cy="155.19" r="2.60" fill="#ff0000"/>
<circle cx="293.28" cy="154.91" r="2.60" fill="#ff0000"/>
<circle cx="293.41" cy="154.57" r="2.60" fill="#ff0000"/>
<circle cx="293.56" cy="154.17" r="2.60" fill="#ff0000"/>
<circle cx="293.74" cy="153.70" r="2.60" fill="#ff0000"/>
<circle cx="293.96" cy="153.15" r="2.60" fill="#ff0000"/>
<circle cx="294.22" cy="152.48" r="2.60" fill="#ff0000"/>
<circle cx="294.54" cy="151.67" r="2.60" fill="#ff0000"/>
<circle cx="294.93" cy="150.70" r="2.60" fill="#ff0000"/>
<circle cx="295.40" cy="149.60" r="2.60" fill="#ff0000"/>
<circle cx="295.97" cy="149.06" r="2.60" fill="#ff0000"/>
<circle cx="296.65" cy="148.41" r="2.60" fill="#ff0000"/>
<circle cx="297.49" cy="147.62" r="2.60" fill="#ff0000"/>
<circle cx="298.49" cy="146.66" r="2.60" fill="#ff0000"/>
<circle cx="299.71" cy="145.50" r="2.60" fill="#ff0000"/>
<circle cx="301.19" cy="144.09" r="2.60" fill="#ff0000"/>
<circle cx="302.98" cy="142.96" r="2.60" fill="#ff0000"/>
<circle cx="305.14" cy="141.59" r="2.60" fill="#ff0000"/>
<circle cx="307.76" cy="139.94" r="2.60" fill="#ff0000"/>
<circle cx="310.94" cy="138.09" r="2.60" fill="#ff0000"/>
<circle cx="314.78" cy="135.85" r="2.60" fill="#ff0000"/>
<circle cx="319.42" cy="133.14" r="2.60" fill="#ff0000"/>
<circle cx="325.05" cy="130.21" r="2.60" fill="#ff0000"/>
<circle cx="331.87" cy="127.20" r="2.60" fill="#ff0000"/>
<circle cx="340.11" cy="123.75" r="2.60" fill="#ff0000"/>
<circle cx="350.10" cy="120.97" r="2.60" fill="#ff0000"/>
<circle cx="362.19" cy="118.19" r="2.60" fill="#ff0000"/>
<circle cx="376.82" cy="115.21" r="2.60" fill="#ff0000"/>
<circle cx="394.54" cy="112.65" r="2.60" fill="#ff0000"/>
<circle cx="415.99" cy="110.04" r="2.60" fill="#ff0000"/>
<circle cx="441.95" cy="107.10" r="2.60" fill="#ff0000"/>
<circle cx="473.38" cy="104.53" r="2.60" fill="#ff0000"/>
<circle cx="511.43" cy="104.03" r="2.60" fill="#ff0000"/>
<polyline points="292.70,156.50 293.17,156.50 293.20,156.50 293.22,156.50 293.24,156.50 293.27,156.50 293.29,156.50 293.31,156.50 293.34,156.50 293.36,156.50 293.38,156.50 293.41,156.50 293.43,156.50 293.46,156.50 293.48,156.50 293.50,156.50 293.53,156.50 293.55,156.50 293.57,156.50 293.60,156.50 293.62,156.50 293.64,156.50 293.74,131.12 293.96,130.27 294.22,129.61 294.54,128.80 294.93,126.75 295.40,123.17 295.97,110.16 296.65,99.99 297.49,93.62 298.49,89.87 299.71,87.49 301.19,84.61 302.98,83.06 305.14,81.20 307.76,79.57 310.94,77.93 314.78,75.96 319.42,73.83 325.05,72.16 331.87,70.69 340.11,68.73 350.10,68.01 362.19,64.53 376.82,60.64 394.54,61.00 415.99,56.13 441.95,55.29 473.38,59.11 511.43,57.76" fill="none" stroke="#0000ff" stroke-width="1.85" stroke-linejoin="round"/>
<polygon points="293.17,153.40 296.12,158.36 290.23,158.36" fill="#0000ff"/>
<polygon points="293.20,153.40 296.14,158.36 290.25,158.36" fill="#0000ff"/>
<polygon points="293.22,153.40 296.16,158.36 290.27,158.36" fill="#0000ff"/>
<polygon points="293.24,153.40 296.19,158.36 290.30,158.36" fill="#0000ff"/>
<polygon points="293.27,153.40 296.21,158.36 290.32,158.36" fill="#0000ff"/>
<polygon points="293.29,153.40 296.23,158.36 290.34,158.36" fill="#0000ff"/>
<polygon points="293.31,153.40 296.26,158.36 290.37,158.36" fill="#0000ff"/>
<polygon points="293.34,153.40 296.28,158.36 290.39,158.36" fill="#0000ff"/>
<polygon points="293.36,153.40 296.31,158.36 290.42,158.36" fill="#0000ff"/>
<polygon points="293.38,153.40 296.33,158.36 290.44,158.36" fill="#0000ff"/>
<polygon points="293.41,153.40 296.35,158.36 290.46,158.36" fill="#0000ff"/>
<polygon points="293.43,153.40 296.38,158.36 290.49,158.36" fill="#0000ff"/>
<polygon points="293.46,153.40 296.40,158.36 290.51,158.36" fill="#0000ff"/>
<polygon points="293.48,153.40 296.42,158.36 290.53,158.36" fill="#0000ff"/>
<polygon points="293.50,153.40 296.45,158.36 290.56,158.36" fill="#0000ff"/>
<polygon points="293.53,153.40 296.47,158.36 290.58,158.36" fill="#0000ff"/>
<polygon points="293.55,153.40 296.49,158.36 290.60,158.36" fill="#0000ff"/>
<polygon points="293.57,153.40 296.52,158.36 290.63,158.36" fill="#0000ff"/>
<polygon points="293.60,153.40 296.54,158.36 290.65,158.36" fill="#0000ff"/>
<polygon points="293.62,153.40 296.57,158.36 290.68,158.36" fill="#0000ff"/>
<polygon points="293.64,153.40 296.59,158.36 290.70,158.36" fill="#0000ff"/>
<polygon points="293.74,128.02 296.68,132.98 290.79,132.98" fill="#0000ff"/>
<polygon points="293.96,127.17 296.90,132.13 291.01,132.13" fill="#0000ff"/>
<polygon points="294.22,126.51 297.17,131.47 291.28,131.47" fill="#0000ff"/>
<polygon points="294.54,125.70 297.49,130.66 291.60,130.66" fill="#0000ff"/>
<polygon points="294.93,123.65 297.87,128.61 291.98,128.61" fill="#0000ff"/>
<polygon points="295.40,120.07 298.34,125.03 292.45,125.03" fill="#0000ff"/>
<polygon points="295.97,107.06 298.91,112.02 293.02,112.02" fill="#0000ff"/>
<polygon points="296.65,96.89 299.60,101.85 293.71,101.85" fill="#0000ff"/>
<polygon points="297.49,90.52 300.43,95.48 294.54,95.48" fill="#0000ff"/>
<polygon points="298.49,86.77 301.44,91.73 295.55,91.73" fill="#0000ff"/>
<polygon points="299.71,84.39 302.66,89.35 296.77,89.35" fill="#0000ff"/>
<polygon points="301.19,81.51 304.13,86.47 298.24,86.47" fill="#0000ff"/>
<polygon points="302.98,79.96 305.92,84.92 300.03,84.92" fill="#0000ff"/>
<polygon points="305.14,78.10 308.09,83.06 302.20,83.06" fill="#0000ff"/>
<polygon points="307.76,76.47 310.71,81.43 304.82,81.43" fill="#0000ff"/>
<polygon points="310.94,74.83 313.88,79.79 307.99,79.79" fill="#0000ff"/>
<polygon points="314.78,72.86 317.72,77.82 311.83,77.82" fill="#0000ff"/>
<polygon points="319.42,70.73 322.37,75.69 316.48,75.69" fill="#0000ff"/>
<polygon points="325.05,69.06 328.00,74.02 322.11,74.02" fill="#0000ff"/>
<polygon points="331.87,67.59 334.81,72.55 328.92,72.55" fill="#0000ff"/>
<polygon points="340.11,65.63 343.06,70.59 337.17,70.59" fill="#0000ff"/>
<polygon points="350.10,64.91 353.04,69.87 347.15,69.87" fill="#0000ff"/>
<polygon points="362.19,61.43 365.13,66.39 359.24,66.39" fill="#0000ff"/>
<polygon points="376.82,57.54 379.77,62.50 373.88,62.50" fill="#0000ff"/>
<polygon points="394.54,57.90 397.48,62.86 391.59,62.86" fill="#0000ff"/>
<polygon points="415.99,53.03 418.93,57.99 413.04,57.99" fill="#0000ff"/>
<polygon points="441.95,52.19 444.89,57.15 439.00,57.15" fill="#0000ff"/>
<polygon points="473.38,56.01 476.33,60.97 470.44,60.97" fill="#0000ff"/>
<polygon points="511.43,54.66 514.38,59.62 508.49,59.62" fill="#0000ff"/>
<polyline points="292.70,156.50 293.17,156.50 293.20,152.98 293.22,149.46 293.24,145.94 293.27,142.42 293.29,138.90 293.31,135.39 293.34,131.87 293.36,128.35 293.38,124.83 293.41,121.31 293.43,117.79 293.46,114.27 293.48,110.75 293.50,107.23 293.53,103.71 293.55,100.19 293.57,96.68 293.60,93.16 293.62,89.64 293.64,86.12 293.74,85.12 293.96,82.78 294.22,79.95 294.54,76.52 294.93,72.37 295.40,71.57 295.97,71.05 296.65,70.42 297.49,69.65 298.49,68.51 299.71,66.86 301.19,64.97 302.98,63.53 305.14,61.77 307.76,59.65 310.94,57.29 314.78,55.39 319.42,55.25 325.05,56.51 331.87,49.93 340.11,49.89 350.10,49.00 362.19,46.80 376.82,43.36 394.54,38.21 415.99,42.43 441.95,41.15 473.38,38.76 511.43,36.06" fill="none" stroke="#ff00ff" stroke-width="1.85" stroke-linejoin="round"/>
<polygon points="293.17,159.60 296.12,154.64 290.23,154.64" fill="#ff00ff"/>
<polygon points="293.20,156.08 296.14,151.12 290.25,151.12" fill="#ff00ff"/>
<polygon points="293.22,152.56 296.16,147.60 290.27,147.60" fill="#ff00ff"/>
<polygon points="293.24,149.04 296.19,144.08 290.30,144.08" fill="#ff00ff"/>
<polygon points="293.27,145.52 296.21,140.56 290.32,140.56" fill="#ff00ff"/>
<polygon points="293.29,142.00 296.23,137.04 290.34,137.04" fill="#ff00ff"/>
<polygon points="293.31,138.49 296.26,133.53 290.37,133.53" fill="#ff00ff"/>
<polygon points="293.34,134.97 296.28,130.01 290.39,130.01" fill="#ff00ff"/>
<polygon points="293.36,131.45 296.31,126.49 290.42,126.49" fill="#ff00ff"/>
<polygon points="293.38,127.93 296.33,122.97 290.44,122.97" fill="#ff00ff"/>
<polygon points="293.41,124.41 296.35,119.45 290.46,119.45" fill="#ff00ff"/>
<polygon points="293.43,120.89 296.38,115.93 290.49,115.93" fill="#ff00ff"/>
<polygon points="293.46,117.37 296.40,112.41 290.51,112.41" fill="#ff00ff"/>
<polygon points="293.48,113.85 296.42,108.89 290.53,108.89" fill="#ff00ff"/>
<polygon points="293.50,110.33 296.45,105.37 290.56,105.37" fill="#ff00ff"/>
<polygon points="293.53,106.81 296.47,101.85 290.58,101.85" fill="#ff00ff"/>
<polygon points="293.55,103.29 296.49,98.33 290.60,98.33" fill="#ff00ff"/>
<polygon points="293.57,99.78 296.52,94.82 290.63,94.82" fill="#ff00ff"/>
<polygon points="293.60,96.26 296.54,91.30 290.65,91.30" fill="#ff00ff"/>
<polygon points="293.62,92.74 296.57,87.78 290.68,87.78" fill="#ff00ff"/>
<polygon points="293.64,89.22 296.59,84.26 290.70,84.26" fill="#ff00ff"/>
<polygon points="293.74,88.22 296.68,83.26 290.79,83.26" fill="#ff00ff"/>
<polygon points="293.96,85.88 296.90,80.92 291.01,80.92" fill="#ff00ff"/>
<polygon points="294.22,83.05 297.17,78.09 291.28,78.09" fill="#ff00ff"/>
<polygon points="294.54,79.62 297.49,74.66 291.60,74.66" fill="#ff00ff"/>
<polygon points="294.93,75.47 297.87,70.51 291.98,70.51" fill="#ff00ff"/>
<polygon points="295.40,74.67 298.34,69.71 292.45,69.71" fill="#ff00ff"/>
<polygon points="295.97,74.15 298.91,69.19 293.02,69.19" fill="#ff00ff"/>
<polygon points="296.65,73.52 299.60,68.56 293.71,68.56" fill="#ff00ff"/>
<polygon points="297.49,72.75 300.43,67.79 294.54,67.79" fill="#ff00ff"/>
<polygon points="298.49,71.61 301.44,66.65 295.55,66.65" fill="#ff00ff"/>
<polygon points="299.71,69.96 302.66,65.00 296.77,65.00" fill="#ff00ff"/>
<polygon points="301.19,68.07 304.13,63.11 298.24,63.11" fill="#ff00ff"/>
<polygon points="302.98,66.63 305.92,61.67 300.03,61.67" fill="#ff00ff"/>
<polygon points="305.14,64.87 308.09,59.91 302.20,59.91" fill="#ff00ff"/>
<polygon points="307.76,62.75 310.71,57.79 304.82,57.79" fill="#ff00ff"/>
<polygon points="310.94,60.39 313.88,55.43 307.99,55.43" fill="#ff00ff"/>
<polygon points="314.78,58.49 317.72,53.53 311.83,53.53" fill="#ff00ff"/>
<polygon points="319.42,58.35 322.37,53.39 316.48,53.39" fill="#ff00ff"/>
<polygon points="325.05,59.61 328.00,54.65 322.11,54.65" fill="#ff00ff"/>
<polygon points="331.87,53.03 334.81,48.07 328.92,48.07" fill="#ff00ff"/>
<polygon points="340.11,52.99 343.06,48.03 337.17,48.03" fill="#ff00ff"/>
<polygon points="350.10,52.10 353.04,47.14 347.15,47.14" fill="#ff00ff"/>
<polygon points="362.19,49.90 365.13,44.94 359.24,44.94" fill="#ff00ff"/>
<polygon points="376.82,46.46 379.77,41.50 373.88,41.50" fill="#ff00ff"/>
<polygon points="394.54,41.31 397.48,36.35 391.59,36.35" fill="#ff00ff"/>
<polygon points="415.99,45.53 418.93,40.57 413.04,40.57" fill="#ff00ff"/>
<polygon points="441.95,44.25 444.89,39.29 439.00,39.29" fill="#ff00ff"/>
<polygon points="473.38,41.86 476.33,36.90 470.44,36.90" fill="#ff00ff"/>
<polygon points="511.43,39.16 514.38,34.20 508.49,34.20" fill="#ff00ff"/>
<polyline points="292.70,143.02 293.17,143.02 293.20,139.63 293.22,136.24 293.24,132.85 293.27,129.46 293.29,126.07 293.31,122.68 293.34,119.29 293.36,115.90 293.38,112.51 293.41,109.13 293.43,105.74 293.46,102.35 293.48,98.96 293.50,95.57 293.53,92.18 293.55,88.79 293.57,85.40 293.60,82.01 293.62,78.62 293.64,75.23 293.74,74.36 293.96,73.45 294.22,73.40 294.54,73.35 294.93,73.28 295.40,73.20 295.97,73.10 296.65,72.98 297.49,72.84 298.49,72.67 299.71,72.46 301.19,71.81 302.98,70.87 305.14,69.88 307.76,70.72 310.94,71.73 314.78,70.61 319.42,69.36 325.05,66.78 331.87,68.37 340.11,68.68 350.10,66.88 362.19,68.29 376.82,67.30 394.54,68.70 415.99,64.05 441.95,64.05 473.38,64.89 511.43,64.00" fill="none" stroke="#008000" stroke-width="1.85" stroke-linejoin="round"/>
<polygon points="293.17,139.82 295.57,143.02 293.17,146.22 290.77,143.02" fill="#008000"/>
<polygon points="293.20,136.43 295.60,139.63 293.20,142.83 290.80,139.63" fill="#008000"/>
<polygon points="293.22,133.04 295.62,136.24 293.22,139.44 290.82,136.24" fill="#008000"/>
<polygon points="293.24,129.65 295.64,132.85 293.24,136.05 290.84,132.85" fill="#008000"/>
<polygon points="293.27,126.26 295.67,129.46 293.27,132.66 290.87,129.46" fill="#008000"/>
<polygon points="293.29,122.87 295.69,126.07 293.29,129.27 290.89,126.07" fill="#008000"/>
<polygon points="293.31,119.48 295.71,122.68 293.31,125.88 290.91,122.68" fill="#008000"/>
<polygon points="293.34,116.09 295.74,119.29 293.34,122.49 290.94,119.29" fill="#008000"/>
<polygon points="293.36,112.70 295.76,115.90 293.36,119.10 290.96,115.90" fill="#008000"/>
<polygon points="293.38,109.31 295.78,112.51 293.38,115.71 290.98,112.51" fill="#008000"/>
<polygon points="293.41,105.93 295.81,109.13 293.41,112.33 291.01,109.13" fill="#008000"/>
<polygon points="293.43,102.54 295.83,105.74 293.43,108.94 291.03,105.74" fill="#008000"/>
<polygon points="293.46,99.15 295.86,102.35 293.46,105.55 291.06,102.35" fill="#008000"/>
<polygon points="293.48,95.76 295.88,98.96 293.48,102.16 291.08,98.96" fill="#008000"/>
<polygon points="293.50,92.37 295.90,95.57 293.50,98.77 291.10,95.57" fill="#008000"/>
<polygon points="293.53,88.98 295.93,92.18 293.53,95.38 291.13,92.18" fill="#008000"/>
<polygon points="293.55,85.59 295.95,88.79 293.55,91.99 291.15,88.79" fill="#008000"/>
<polygon points="293.57,82.20 295.97,85.40 293.57,88.60 291.17,85.40" fill="#008000"/>
<polygon points="293.60,78.81 296.00,82.01 293.60,85.21 291.20,82.01" fill="#008000"/>
<polygon points="293.62,75.42 296.02,78.62 293.62,81.82 291.22,78.62" fill="#008000"/>
<polygon points="293.64,72.03 296.04,75.23 293.64,78.43 291.24,75.23" fill="#008000"/>
<polygon points="293.74,71.16 296.14,74.36 293.74,77.56 291.34,74.36" fill="#008000"/>
<polygon points="293.96,70.25 296.36,73.45 293.96,76.65 291.56,73.45" fill="#008000"/>
<polygon points="294.22,70.20 296.62,73.40 294.22,76.60 291.82,73.40" fill="#008000"/>
<polygon points="294.54,70.15 296.94,73.35 294.54,76.55 292.14,73.35" fill="#008000"/>
<polygon points="294.93,70.08 297.33,73.28 294.93,76.48 292.53,73.28" fill="#008000"/>
<polygon points="295.40,70.00 297.80,73.20 295.40,76.40 293.00,73.20" fill="#008000"/>
<polygon points="295.97,69.90 298.37,73.10 295.97,76.30 293.57,73.10" fill="#008000"/>
<polygon points="296.65,69.78 299.05,72.98 296.65,76.18 294.25,72.98" fill="#008000"/>
<polygon points="297.49,69.64 299.89,72.84 297.49,76.04 295.09,72.84" fill="#008000"/>
<polygon points="298.49,69.47 300.89,72.67 298.49,75.87 296.09,72.67" fill="#008000"/>
<polygon points="299.71,69.26 302.11,72.46 299.71,75.66 297.31,72.46" fill="#008000"/>
<polygon points="301.19,68.61 303.59,71.81 301.19,75.01 298.79,71.81" fill="#008000"/>
<polygon points="302.98,67.67 305.38,70.87 302.98,74.07 300.58,70.87" fill="#008000"/>
<polygon points="305.14,66.68 307.54,69.88 305.14,73.08 302.74,69.88" fill="#008000"/>
<polygon points="307.76,67.52 310.16,70.72 307.76,73.92 305.36,70.72" fill="#008000"/>
<polygon points="310.94,68.53 313.34,71.73 310.94,74.93 308.54,71.73" fill="#008000"/>
<polygon points="314.78,67.41 317.18,70.61 314.78,73.81 312.38,70.61" fill="#008000"/>
<polygon points="319.42,66.16 321.82,69.36 319.42,72.56 317.02,69.36" fill="#008000"/>
<polygon points="325.05,63.58 327.45,66.78 325.05,69.98 322.65,66.78" fill="#008000"/>
<polygon points="331.87,65.17 334.27,68.37 331.87,71.57 329.47,68.37" fill="#008000"/>
<polygon points="340.11,65.48 342.51,68.68 340.11,71.88 337.71,68.68" fill="#008000"/>
<polygon points="350.10,63.68 352.50,66.88 350.10,70.08 347.70,66.88" fill="#008000"/>
<polygon points="362.19,65.09 364.59,68.29 362.19,71.49 359.79,68.29" fill="#008000"/>
<polygon points="376.82,64.10 379.22,67.30 376.82,70.50 374.42,67.30" fill="#008000"/>
<polygon points="394.54,65.50 396.94,68.70 394.54,71.90 392.14,68.70" fill="#008000"/>
<polygon points="415.99,60.85 418.39,64.05 415.99,67.25 413.59,64.05" fill="#008000"/>
<polygon points="441.95,60.85 444.35,64.05 441.95,67.25 439.55,64.05" fill="#008000"/>
<polygon points="473.38,61.69 475.78,64.89 473.38,68.09 470.98,64.89" fill="#008000"/>
<polygon points="511.43,60.80 513.83,64.00 511.43,67.20 509.03,64.00" fill="#008000"/>
</g>
<text x="292.70" y="167.70" text-anchor="middle" font-family="'Liberation Sans',Arial,sans-serif" font-weight="bold" font-size="11">0</text>
<text x="330.46" y="167.70" text-anchor="middle" font-family="'Liberation Sans',Arial,sans-serif" font-weight="bold" font-size="11">2</text>
<text x="368.22" y="167.70" text-anchor="middle" font-family="'Liberation Sans',Arial,sans-serif" font-weight="bold" font-size="11">4</text>
<text x="405.98" y="167.70" text-anchor="middle" font-family="'Liberation Sans',Arial,sans-serif" font-weight="bold" font-size="11">6</text>
<text x="443.74" y="167.70" text-anchor="middle" font-family="'Liberation Sans',Arial,sans-serif" font-weight="bold" font-size="11">8</text>
<text x="481.50" y="167.70" text-anchor="middle" font-family="'Liberation Sans',Arial,sans-serif" font-weight="bold" font-size="11">10</text>
<text x="289.20" y="159.90" text-anchor="end" font-family="'Liberation Sans',Arial,sans-serif" font-weight="bold" font-size="11">0</text>
<text x="289.20" y="117.10" text-anchor="end" font-family="'Liberation Sans',Arial,sans-serif" font-weight="bold" font-size="11">2</text>
<text x="289.20" y="74.30" text-anchor="end" font-family="'Liberation Sans',Arial,sans-serif" font-weight="bold" font-size="11">4</text>
<text x="289.20" y="31.50" text-anchor="end" font-family="'Liberation Sans',Arial,sans-serif" font-weight="bold" font-size="11">6</text>
<text x="337.95" y="12.50" font-family="'Liberation Serif','Times New Roman',serif" font-weight="bold" font-size="12" textLength="98.30" lengthAdjust="spacingAndGlyphs">GO-4.5wt% PDASA</text>
<text x="258.00" y="30.40" font-family="'Liberation Serif','Times New Roman',serif" font-weight="bold" font-size="16.5">(d)</text>
<text x="387.90" y="179.10" text-anchor="middle" font-family="'Liberation Serif','Times New Roman',serif" font-weight="bold" font-size="11">P/P<tspan font-size="7.5">0</tspan></text>
<text transform="translate(274.90,95.55) rotate(-90) scale(0.94,1)" text-anchor="middle" font-family="'Liberation Serif','Times New Roman',serif" font-weight="bold" font-size="11.9">Loading (mmol·g<tspan font-size="8" dy="-6" dx="0.6">-1</tspan><tspan dy="6">)</tspan></text>
<line x1="485.5" y1="27.80" x2="511.3" y2="27.80" stroke="#000000" stroke-width="2.15"/>
<rect x="496.20" y="25.60" width="4.40" height="4.40" fill="#000000"/>
<text x="514.4" y="31.40" font-family="'Liberation Serif','Times New Roman',serif" font-weight="bold" font-size="10.7">N<tspan font-size="6.8" dy="0.5">2</tspan></text>
<line x1="485.5" y1="41.85" x2="511.3" y2="41.85" stroke="#ff0000" stroke-width="2.15"/>
<circle cx="498.40" cy="41.85" r="2.60" fill="#ff0000"/>
<text x="514.4" y="45.45" font-family="'Liberation Serif','Times New Roman',serif" font-weight="bold" font-size="10.7">CH<tspan font-size="6.8" dy="0.5">4</tspan></text>
<line x1="485.5" y1="55.90" x2="511.3" y2="55.90" stroke="#0000ff" stroke-width="2.15"/>
<polygon points="498.40,52.80 501.34,57.76 495.45,57.76" fill="#0000ff"/>
<text x="514.4" y="59.50" font-family="'Liberation Serif','Times New Roman',serif" font-weight="bold" font-size="10.7">CO<tspan font-size="6.8" dy="0.5">2</tspan></text>
<line x1="485.5" y1="69.95" x2="511.3" y2="69.95" stroke="#ff00ff" stroke-width="2.15"/>
<polygon points="498.40,73.05 501.34,68.09 495.45,68.09" fill="#ff00ff"/>
<text x="514.4" y="73.55" font-family="'Liberation Serif','Times New Roman',serif" font-weight="bold" font-size="10.7">H<tspan font-size="6.8" dy="0.5">2</tspan><tspan dy="-0.5">S</tspan></text>
<line x1="485.5" y1="84.00" x2="511.3" y2="84.00" stroke="#008000" stroke-width="2.15"/>
<polygon points="498.40,80.80 500.80,84.00 498.40,87.20 496.00,84.00" fill="#008000"/>
<text x="514.4" y="87.60" font-family="'Liberation Serif','Times New Roman',serif" font-weight="bold" font-size="10.7">SO<tspan font-size="6.8" dy="0.5">2</tspan></text>
<rect x="293.4" y="201.5" width="188.90000000000003" height="138.8" fill="none" stroke="#555555" stroke-width="1"/>
<path d="M293.40,340.3v-3M293.40,201.5v3M312.29,340.3v-1.5M312.29,201.5v1.5M331.18,340.3v-3M331.18,201.5v3M350.07,340.3v-1.5M350.07,201.5v1.5M368.96,340.3v-3M368.96,201.5v3M387.85,340.3v-1.5M387.85,201.5v1.5M406.74,340.3v-3M406.74,201.5v3M425.63,340.3v-1.5M425.63,201.5v1.5M444.52,340.3v-3M444.52,201.5v3M463.41,340.3v-1.5M463.41,201.5v1.5M482.30,340.3v-3M482.30,201.5v3M293.4,340.30h3M482.3,340.30h-3M293.4,318.95h1.5M482.3,318.95h-1.5M293.4,297.59h3M482.3,297.59h-3M293.4,276.24h1.5M482.3,276.24h-1.5M293.4,254.88h3M482.3,254.88h-3M293.4,233.53h1.5M482.3,233.53h-1.5M293.4,212.18h3M482.3,212.18h-3" stroke="#555555" stroke-width="1" fill="none"/>
<g clip-path="url(#c4)">
<polyline points="293.40,340.30 293.62,340.25 293.67,340.24 293.73,340.23 293.80,340.21 293.88,340.19 293.98,340.17 294.11,340.14 294.26,340.11 294.44,340.07 294.66,340.02 294.92,339.96 295.24,339.88 295.63,339.70 296.10,339.45 296.67,339.15 297.35,338.80 298.19,338.42 299.20,338.03 300.42,337.56 301.89,336.98 303.68,336.29 305.85,335.61 308.47,334.87 311.64,333.97 315.49,332.79 320.14,331.32 325.77,329.35 332.59,327.40 340.84,324.71 350.83,323.19 362.92,321.32 377.57,318.93 395.29,315.95 416.75,313.57 442.73,311.04 474.18,308.04 512.25,306.68" fill="none" stroke="#000000" stroke-width="1.85" stroke-linejoin="round"/>
<rect x="291.42" y="338.05" width="4.40" height="4.40" fill="#000000"/>
<rect x="291.47" y="338.04" width="4.40" height="4.40" fill="#000000"/>
<rect x="291.53" y="338.03" width="4.40" height="4.40" fill="#000000"/>
<rect x="291.60" y="338.01" width="4.40" height="4.40" fill="#000000"/>
<rect x="291.68" y="337.99" width="4.40" height="4.40" fill="#000000"/>
<rect x="291.78" y="337.97" width="4.40" height="4.40" fill="#000000"/>
<rect x="291.91" y="337.94" width="4.40" height="4.40" fill="#000000"/>
<rect x="292.06" y="337.91" width="4.40" height="4.40" fill="#000000"/>
<rect x="292.24" y="337.87" width="4.40" height="4.40" fill="#000000"/>
<rect x="292.46" y="337.82" width="4.40" height="4.40" fill="#000000"/>
<rect x="292.72" y="337.76" width="4.40" height="4.40" fill="#000000"/>
<rect x="293.04" y="337.68" width="4.40" height="4.40" fill="#000000"/>
<rect x="293.43" y="337.50" width="4.40" height="4.40" fill="#000000"/>
<rect x="293.90" y="337.25" width="4.40" height="4.40" fill="#000000"/>
<rect x="294.47" y="336.95" width="4.40" height="4.40" fill="#000000"/>
<rect x="295.15" y="336.60" width="4.40" height="4.40" fill="#000000"/>
<rect x="295.99" y="336.22" width="4.40" height="4.40" fill="#000000"/>
<rect x="297.00" y="335.83" width="4.40" height="4.40" fill="#000000"/>
<rect x="298.22" y="335.36" width="4.40" height="4.40" fill="#000000"/>
<rect x="299.69" y="334.78" width="4.40" height="4.40" fill="#000000"/>
<rect x="301.48" y="334.09" width="4.40" height="4.40" fill="#000000"/>
<rect x="303.65" y="333.41" width="4.40" height="4.40" fill="#000000"/>
<rect x="306.27" y="332.67" width="4.40" height="4.40" fill="#000000"/>
<rect x="309.44" y="331.77" width="4.40" height="4.40" fill="#000000"/>
<rect x="313.29" y="330.59" width="4.40" height="4.40" fill="#000000"/>
<rect x="317.94" y="329.12" width="4.40" height="4.40" fill="#000000"/>
<rect x="323.57" y="327.15" width="4.40" height="4.40" fill="#000000"/>
<rect x="330.39" y="325.20" width="4.40" height="4.40" fill="#000000"/>
<rect x="338.64" y="322.51" width="4.40" height="4.40" fill="#000000"/>
<rect x="348.63" y="320.99" width="4.40" height="4.40" fill="#000000"/>
<rect x="360.72" y="319.12" width="4.40" height="4.40" fill="#000000"/>
<rect x="375.37" y="316.73" width="4.40" height="4.40" fill="#000000"/>
<rect x="393.09" y="313.75" width="4.40" height="4.40" fill="#000000"/>
<rect x="414.55" y="311.37" width="4.40" height="4.40" fill="#000000"/>
<rect x="440.53" y="308.84" width="4.40" height="4.40" fill="#000000"/>
<rect x="471.98" y="305.84" width="4.40" height="4.40" fill="#000000"/>
<rect x="510.05" y="304.48" width="4.40" height="4.40" fill="#000000"/>
<polyline points="293.40,340.30 293.62,339.79 293.67,339.68 293.73,339.55 293.80,339.40 293.88,339.21 293.98,338.98 294.11,338.70 294.26,338.36 294.44,338.02 294.66,337.67 294.92,337.25 295.24,336.75 295.63,336.13 296.10,335.39 296.67,334.63 297.35,333.76 298.19,332.71 299.20,331.44 300.42,329.90 301.89,328.43 303.68,327.11 305.85,325.51 308.47,323.46 311.64,321.13 315.49,318.95 320.14,315.95 325.77,313.16 332.59,310.93 340.84,307.41 350.83,305.46 362.92,303.18 377.57,299.50 395.29,297.37 416.75,295.20 442.73,292.46 474.18,290.10 512.25,288.75" fill="none" stroke="#ff0000" stroke-width="1.85" stroke-linejoin="round"/>
<circle cx="293.62" cy="339.79" r="2.60" fill="#ff0000"/>
<circle cx="293.67" cy="339.68" r="2.60" fill="#ff0000"/>
<circle cx="293.73" cy="339.55" r="2.60" fill="#ff0000"/>
<circle cx="293.80" cy="339.40" r="2.60" fill="#ff0000"/>
<circle cx="293.88" cy="339.21" r="2.60" fill="#ff0000"/>
<circle cx="293.98" cy="338.98" r="2.60" fill="#ff0000"/>
<circle cx="294.11" cy="338.70" r="2.60" fill="#ff0000"/>
<circle cx="294.26" cy="338.36" r="2.60" fill="#ff0000"/>
<circle cx="294.44" cy="338.02" r="2.60" fill="#ff0000"/>
<circle cx="294.66" cy="337.67" r="2.60" fill="#ff0000"/>
<circle cx="294.92" cy="337.25" r="2.60" fill="#ff0000"/>
<circle cx="295.24" cy="336.75" r="2.60" fill="#ff0000"/>
<circle cx="295.63" cy="336.13" r="2.60" fill="#ff0000"/>
<circle cx="296.10" cy="335.39" r="2.60" fill="#ff0000"/>
<circle cx="296.67" cy="334.63" r="2.60" fill="#ff0000"/>
<circle cx="297.35" cy="333.76" r="2.60" fill="#ff0000"/>
<circle cx="298.19" cy="332.71" r="2.60" fill="#ff0000"/>
<circle cx="299.20" cy="331.44" r="2.60" fill="#ff0000"/>
<circle cx="300.42" cy="329.90" r="2.60" fill="#ff0000"/>
<circle cx="301.89" cy="328.43" r="2.60" fill="#ff0000"/>
<circle cx="303.68" cy="327.11" r="2.60" fill="#ff0000"/>
<circle cx="305.85" cy="325.51" r="2.60" fill="#ff0000"/>
<circle cx="308.47" cy="323.46" r="2.60" fill="#ff0000"/>
<circle cx="311.64" cy="321.13" r="2.60" fill="#ff0000"/>
<circle cx="315.49" cy="318.95" r="2.60" fill="#ff0000"/>
<circle cx="320.14" cy="315.95" r="2.60" fill="#ff0000"/>
<circle cx="325.77" cy="313.16" r="2.60" fill="#ff0000"/>
<circle cx="332.59" cy="310.93" r="2.60" fill="#ff0000"/>
<circle cx="340.84" cy="307.41" r="2.60" fill="#ff0000"/>
<circle cx="350.83" cy="305.46" r="2.60" fill="#ff0000"/>
<circle cx="362.92" cy="303.18" r="2.60" fill="#ff0000"/>
<circle cx="377.57" cy="299.50" r="2.60" fill="#ff0000"/>
<circle cx="395.29" cy="297.37" r="2.60" fill="#ff0000"/>
<circle cx="416.75" cy="295.20" r="2.60" fill="#ff0000"/>
<circle cx="442.73" cy="292.46" r="2.60" fill="#ff0000"/>
<circle cx="474.18" cy="290.10" r="2.60" fill="#ff0000"/>
<circle cx="512.25" cy="288.75" r="2.60" fill="#ff0000"/>
<polyline points="293.40,340.30 293.87,340.30 293.90,340.30 293.92,340.30 293.94,340.30 293.97,340.30 293.99,340.30 294.01,340.30 294.04,340.30 294.06,340.30 294.08,340.30 294.11,340.30 294.13,340.30 294.16,340.30 294.18,340.30 294.20,340.30 294.23,340.30 294.25,340.30 294.27,340.30 294.30,340.30 294.32,340.30 294.34,340.30 294.44,306.54 294.66,304.50 294.92,302.50 295.24,300.09 295.63,298.57 296.10,296.98 296.67,289.18 297.35,282.34 298.19,279.23 299.20,275.46 300.42,272.94 301.89,270.53 303.68,268.10 305.85,265.84 308.47,263.23 311.64,260.47 315.49,258.87 320.14,257.42 325.77,256.10 332.59,254.16 340.84,251.40 350.83,254.88 362.92,247.94 377.57,247.41 395.29,247.41 416.75,243.39 442.73,246.11 474.18,241.04 512.25,241.00" fill="none" stroke="#0000ff" stroke-width="1.85" stroke-linejoin="round"/>
<polygon points="293.87,337.20 296.82,342.16 290.93,342.16" fill="#0000ff"/>
<polygon points="293.90,337.20 296.84,342.16 290.95,342.16" fill="#0000ff"/>
<polygon points="293.92,337.20 296.86,342.16 290.97,342.16" fill="#0000ff"/>
<polygon points="293.94,337.20 296.89,342.16 291.00,342.16" fill="#0000ff"/>
<polygon points="293.97,337.20 296.91,342.16 291.02,342.16" fill="#0000ff"/>
<polygon points="293.99,337.20 296.94,342.16 291.05,342.16" fill="#0000ff"/>
<polygon points="294.01,337.20 296.96,342.16 291.07,342.16" fill="#0000ff"/>
<polygon points="294.04,337.20 296.98,342.16 291.09,342.16" fill="#0000ff"/>
<polygon points="294.06,337.20 297.01,342.16 291.12,342.16" fill="#0000ff"/>
<polygon points="294.08,337.20 297.03,342.16 291.14,342.16" fill="#0000ff"/>
<polygon points="294.11,337.20 297.05,342.16 291.16,342.16" fill="#0000ff"/>
<polygon points="294.13,337.20 297.08,342.16 291.19,342.16" fill="#0000ff"/>
<polygon points="294.16,337.20 297.10,342.16 291.21,342.16" fill="#0000ff"/>
<polygon points="294.18,337.20 297.12,342.16 291.23,342.16" fill="#0000ff"/>
<polygon points="294.20,337.20 297.15,342.16 291.26,342.16" fill="#0000ff"/>
<polygon points="294.23,337.20 297.17,342.16 291.28,342.16" fill="#0000ff"/>
<polygon points="294.25,337.20 297.20,342.16 291.31,342.16" fill="#0000ff"/>
<polygon points="294.27,337.20 297.22,342.16 291.33,342.16" fill="#0000ff"/>
<polygon points="294.30,337.20 297.24,342.16 291.35,342.16" fill="#0000ff"/>
<polygon points="294.32,337.20 297.27,342.16 291.38,342.16" fill="#0000ff"/>
<polygon points="294.34,337.20 297.29,342.16 291.40,342.16" fill="#0000ff"/>
<polygon points="294.44,303.44 297.38,308.40 291.49,308.40" fill="#0000ff"/>
<polygon points="294.66,301.40 297.60,306.36 291.71,306.36" fill="#0000ff"/>
<polygon points="294.92,299.40 297.87,304.36 291.98,304.36" fill="#0000ff"/>
<polygon points="295.24,296.99 298.19,301.95 292.30,301.95" fill="#0000ff"/>
<polygon points="295.63,295.47 298.57,300.43 292.68,300.43" fill="#0000ff"/>
<polygon points="296.10,293.88 299.04,298.84 293.15,298.84" fill="#0000ff"/>
<polygon points="296.67,286.08 299.61,291.04 293.72,291.04" fill="#0000ff"/>
<polygon points="297.35,279.24 300.30,284.20 294.41,284.20" fill="#0000ff"/>
<polygon points="298.19,276.13 301.13,281.09 295.24,281.09" fill="#0000ff"/>
<polygon points="299.20,272.36 302.14,277.32 296.25,277.32" fill="#0000ff"/>
<polygon points="300.42,269.84 303.36,274.80 297.47,274.80" fill="#0000ff"/>
<polygon points="301.89,267.43 304.84,272.39 298.95,272.39" fill="#0000ff"/>
<polygon points="303.68,265.00 306.63,269.96 300.74,269.96" fill="#0000ff"/>
<polygon points="305.85,262.74 308.79,267.70 302.90,267.70" fill="#0000ff"/>
<polygon points="308.47,260.13 311.42,265.09 305.53,265.09" fill="#0000ff"/>
<polygon points="311.64,257.37 314.59,262.33 308.70,262.33" fill="#0000ff"/>
<polygon points="315.49,255.77 318.43,260.73 312.54,260.73" fill="#0000ff"/>
<polygon points="320.14,254.32 323.08,259.28 317.19,259.28" fill="#0000ff"/>
<polygon points="325.77,253.00 328.71,257.96 322.82,257.96" fill="#0000ff"/>
<polygon points="332.59,251.06 335.53,256.02 329.64,256.02" fill="#0000ff"/>
<polygon points="340.84,248.30 343.78,253.26 337.89,253.26" fill="#0000ff"/>
<polygon points="350.83,251.78 353.78,256.74 347.89,256.74" fill="#0000ff"/>
<polygon points="362.92,244.84 365.87,249.80 359.98,249.80" fill="#0000ff"/>
<polygon points="377.57,244.31 380.51,249.27 374.62,249.27" fill="#0000ff"/>
<polygon points="395.29,244.31 398.24,249.27 392.35,249.27" fill="#0000ff"/>
<polygon points="416.75,240.29 419.70,245.25 413.81,245.25" fill="#0000ff"/>
<polygon points="442.73,243.01 445.67,247.97 439.78,247.97" fill="#0000ff"/>
<polygon points="474.18,237.94 477.12,242.90 471.23,242.90" fill="#0000ff"/>
<polygon points="512.25,237.90 515.19,242.86 509.30,242.86" fill="#0000ff"/>
<polyline points="293.40,340.30 293.87,340.30 293.90,337.74 293.92,335.18 293.94,332.61 293.97,330.05 293.99,327.49 294.01,324.93 294.04,322.36 294.06,319.80 294.08,317.24 294.11,314.68 294.13,312.11 294.16,309.55 294.18,306.99 294.20,304.43 294.23,301.86 294.25,299.30 294.27,296.74 294.30,294.18 294.32,291.61 294.34,289.05 294.44,288.21 294.66,286.23 294.92,283.84 295.24,280.94 295.63,277.43 296.10,273.44 296.67,271.00 297.35,268.05 298.19,264.96 299.20,262.58 300.42,259.69 301.89,256.20 303.68,254.63 305.85,251.90 308.47,248.53 311.64,248.84 315.49,248.91 320.14,248.68 325.77,248.31 332.59,247.84 340.84,247.01 350.83,242.50 362.92,239.34 377.57,240.79 395.29,241.42 416.75,237.41 442.73,241.85 474.18,239.31 512.25,238.83" fill="none" stroke="#ff00ff" stroke-width="1.85" stroke-linejoin="round"/>
<polygon points="293.87,343.40 296.82,338.44 290.93,338.44" fill="#ff00ff"/>
<polygon points="293.90,340.84 296.84,335.88 290.95,335.88" fill="#ff00ff"/>
<polygon points="293.92,338.28 296.86,333.32 290.97,333.32" fill="#ff00ff"/>
<polygon points="293.94,335.71 296.89,330.75 291.00,330.75" fill="#ff00ff"/>
<polygon points="293.97,333.15 296.91,328.19 291.02,328.19" fill="#ff00ff"/>
<polygon points="293.99,330.59 296.94,325.63 291.05,325.63" fill="#ff00ff"/>
<polygon points="294.01,328.03 296.96,323.07 291.07,323.07" fill="#ff00ff"/>
<polygon points="294.04,325.46 296.98,320.50 291.09,320.50" fill="#ff00ff"/>
<polygon points="294.06,322.90 297.01,317.94 291.12,317.94" fill="#ff00ff"/>
<polygon points="294.08,320.34 297.03,315.38 291.14,315.38" fill="#ff00ff"/>
<polygon points="294.11,317.78 297.05,312.82 291.16,312.82" fill="#ff00ff"/>
<polygon points="294.13,315.21 297.08,310.25 291.19,310.25" fill="#ff00ff"/>
<polygon points="294.16,312.65 297.10,307.69 291.21,307.69" fill="#ff00ff"/>
<polygon points="294.18,310.09 297.12,305.13 291.23,305.13" fill="#ff00ff"/>
<polygon points="294.20,307.53 297.15,302.57 291.26,302.57" fill="#ff00ff"/>
<polygon points="294.23,304.96 297.17,300.00 291.28,300.00" fill="#ff00ff"/>
<polygon points="294.25,302.40 297.20,297.44 291.31,297.44" fill="#ff00ff"/>
<polygon points="294.27,299.84 297.22,294.88 291.33,294.88" fill="#ff00ff"/>
<polygon points="294.30,297.28 297.24,292.32 291.35,292.32" fill="#ff00ff"/>
<polygon points="294.32,294.71 297.27,289.75 291.38,289.75" fill="#ff00ff"/>
<polygon points="294.34,292.15 297.29,287.19 291.40,287.19" fill="#ff00ff"/>
<polygon points="294.44,291.31 297.38,286.35 291.49,286.35" fill="#ff00ff"/>
<polygon points="294.66,289.33 297.60,284.37 291.71,284.37" fill="#ff00ff"/>
<polygon points="294.92,286.94 297.87,281.98 291.98,281.98" fill="#ff00ff"/>
<polygon points="295.24,284.04 298.19,279.08 292.30,279.08" fill="#ff00ff"/>
<polygon points="295.63,280.53 298.57,275.57 292.68,275.57" fill="#ff00ff"/>
<polygon points="296.10,276.54 299.04,271.58 293.15,271.58" fill="#ff00ff"/>
<polygon points="296.67,274.10 299.61,269.14 293.72,269.14" fill="#ff00ff"/>
<polygon points="297.35,271.15 300.30,266.19 294.41,266.19" fill="#ff00ff"/>
<polygon points="298.19,268.06 301.13,263.10 295.24,263.10" fill="#ff00ff"/>
<polygon points="299.20,265.68 302.14,260.72 296.25,260.72" fill="#ff00ff"/>
<polygon points="300.42,262.79 303.36,257.83 297.47,257.83" fill="#ff00ff"/>
<polygon points="301.89,259.30 304.84,254.34 298.95,254.34" fill="#ff00ff"/>
<polygon points="303.68,257.73 306.63,252.77 300.74,252.77" fill="#ff00ff"/>
<polygon points="305.85,255.00 308.79,250.04 302.90,250.04" fill="#ff00ff"/>
<polygon points="308.47,251.63 311.42,246.67 305.53,246.67" fill="#ff00ff"/>
<polygon points="311.64,251.94 314.59,246.98 308.70,246.98" fill="#ff00ff"/>
<polygon points="315.49,252.01 318.43,247.05 312.54,247.05" fill="#ff00ff"/>
<polygon points="320.14,251.78 323.08,246.82 317.19,246.82" fill="#ff00ff"/>
<polygon points="325.77,251.41 328.71,246.45 322.82,246.45" fill="#ff00ff"/>
<polygon points="332.59,250.94 335.53,245.98 329.64,245.98" fill="#ff00ff"/>
<polygon points="340.84,250.11 343.78,245.15 337.89,245.15" fill="#ff00ff"/>
<polygon points="350.83,245.60 353.78,240.64 347.89,240.64" fill="#ff00ff"/>
<polygon points="362.92,242.44 365.87,237.48 359.98,237.48" fill="#ff00ff"/>
<polygon points="377.57,243.89 380.51,238.93 374.62,238.93" fill="#ff00ff"/>
<polygon points="395.29,244.52 398.24,239.56 392.35,239.56" fill="#ff00ff"/>
<polygon points="416.75,240.51 419.70,235.55 413.81,235.55" fill="#ff00ff"/>
<polygon points="442.73,244.95 445.67,239.99 439.78,239.99" fill="#ff00ff"/>
<polygon points="474.18,242.41 477.12,237.45 471.23,237.45" fill="#ff00ff"/>
<polygon points="512.25,241.93 515.19,236.97 509.30,236.97" fill="#ff00ff"/>
<polyline points="293.40,318.09 293.87,318.09 293.90,315.24 293.92,312.40 293.94,309.55 293.97,306.70 293.99,303.85 294.01,301.00 294.04,298.16 294.06,295.31 294.08,292.46 294.11,289.61 294.13,286.76 294.16,283.92 294.18,281.07 294.20,278.22 294.23,275.37 294.25,272.52 294.27,269.67 294.30,266.83 294.32,263.98 294.34,261.13 294.44,260.58 294.66,259.92 294.92,259.74 295.24,259.52 295.63,259.25 296.10,258.92 296.67,258.53 297.35,258.02 298.19,257.37 299.20,256.59 300.42,256.10 301.89,256.66 303.68,256.62 305.85,255.59 308.47,253.30 311.64,250.92 315.49,251.47 320.14,250.44 325.77,252.51 332.59,251.92 340.84,254.44 350.83,254.03 362.92,253.40 377.57,255.51 395.29,253.43 416.75,250.43 442.73,254.03 474.18,254.03 512.25,254.03" fill="none" stroke="#008000" stroke-width="1.85" stroke-linejoin="round"/>
<polygon points="293.87,314.89 296.27,318.09 293.87,321.29 291.47,318.09" fill="#008000"/>
<polygon points="293.90,312.04 296.30,315.24 293.90,318.44 291.50,315.24" fill="#008000"/>
<polygon points="293.92,309.20 296.32,312.40 293.92,315.60 291.52,312.40" fill="#008000"/>
<polygon points="293.94,306.35 296.34,309.55 293.94,312.75 291.54,309.55" fill="#008000"/>
<polygon points="293.97,303.50 296.37,306.70 293.97,309.90 291.57,306.70" fill="#008000"/>
<polygon points="293.99,300.65 296.39,303.85 293.99,307.05 291.59,303.85" fill="#008000"/>
<polygon points="294.01,297.80 296.41,301.00 294.01,304.20 291.61,301.00" fill="#008000"/>
<polygon points="294.04,294.96 296.44,298.16 294.04,301.36 291.64,298.16" fill="#008000"/>
<polygon points="294.06,292.11 296.46,295.31 294.06,298.51 291.66,295.31" fill="#008000"/>
<polygon points="294.08,289.26 296.48,292.46 294.08,295.66 291.68,292.46" fill="#008000"/>
<polygon points="294.11,286.41 296.51,289.61 294.11,292.81 291.71,289.61" fill="#008000"/>
<polygon points="294.13,283.56 296.53,286.76 294.13,289.96 291.73,286.76" fill="#008000"/>
<polygon points="294.16,280.72 296.56,283.92 294.16,287.12 291.76,283.92" fill="#008000"/>
<polygon points="294.18,277.87 296.58,281.07 294.18,284.27 291.78,281.07" fill="#008000"/>
<polygon points="294.20,275.02 296.60,278.22 294.20,281.42 291.80,278.22" fill="#008000"/>
<polygon points="294.23,272.17 296.63,275.37 294.23,278.57 291.83,275.37" fill="#008000"/>
<polygon points="294.25,269.32 296.65,272.52 294.25,275.72 291.85,272.52" fill="#008000"/>
<polygon points="294.27,266.47 296.67,269.67 294.27,272.87 291.87,269.67" fill="#008000"/>
<polygon points="294.30,263.63 296.70,266.83 294.30,270.03 291.90,266.83" fill="#008000"/>
<polygon points="294.32,260.78 296.72,263.98 294.32,267.18 291.92,263.98" fill="#008000"/>
<polygon points="294.34,257.93 296.74,261.13 294.34,264.33 291.94,261.13" fill="#008000"/>
<polygon points="294.44,257.38 296.84,260.58 294.44,263.78 292.04,260.58" fill="#008000"/>
<polygon points="294.66,256.72 297.06,259.92 294.66,263.12 292.26,259.92" fill="#008000"/>
<polygon points="294.92,256.54 297.32,259.74 294.92,262.94 292.52,259.74" fill="#008000"/>
<polygon points="295.24,256.32 297.64,259.52 295.24,262.72 292.84,259.52" fill="#008000"/>
<polygon points="295.63,256.05 298.03,259.25 295.63,262.45 293.23,259.25" fill="#008000"/>
<polygon points="296.10,255.72 298.50,258.92 296.10,262.12 293.70,258.92" fill="#008000"/>
<polygon points="296.67,255.33 299.07,258.53 296.67,261.73 294.27,258.53" fill="#008000"/>
<polygon points="297.35,254.82 299.75,258.02 297.35,261.22 294.95,258.02" fill="#008000"/>
<polygon points="298.19,254.17 300.59,257.37 298.19,260.57 295.79,257.37" fill="#008000"/>
<polygon points="299.20,253.39 301.60,256.59 299.20,259.79 296.80,256.59" fill="#008000"/>
<polygon points="300.42,252.90 302.82,256.10 300.42,259.30 298.02,256.10" fill="#008000"/>
<polygon points="301.89,253.46 304.29,256.66 301.89,259.86 299.49,256.66" fill="#008000"/>
<polygon points="303.68,253.42 306.08,256.62 303.68,259.82 301.28,256.62" fill="#008000"/>
<polygon points="305.85,252.39 308.25,255.59 305.85,258.79 303.45,255.59" fill="#008000"/>
<polygon points="308.47,250.10 310.87,253.30 308.47,256.50 306.07,253.30" fill="#008000"/>
<polygon points="311.64,247.72 314.04,250.92 311.64,254.12 309.24,250.92" fill="#008000"/>
<polygon points="315.49,248.27 317.89,251.47 315.49,254.67 313.09,251.47" fill="#008000"/>
<polygon points="320.14,247.24 322.54,250.44 320.14,253.64 317.74,250.44" fill="#008000"/>
<polygon points="325.77,249.31 328.17,252.51 325.77,255.71 323.37,252.51" fill="#008000"/>
<polygon points="332.59,248.72 334.99,251.92 332.59,255.12 330.19,251.92" fill="#008000"/>
<polygon points="340.84,251.24 343.24,254.44 340.84,257.64 338.44,254.44" fill="#008000"/>
<polygon points="350.83,250.83 353.23,254.03 350.83,257.23 348.43,254.03" fill="#008000"/>
<polygon points="362.92,250.20 365.32,253.40 362.92,256.60 360.52,253.40" fill="#008000"/>
<polygon points="377.57,252.31 379.97,255.51 377.57,258.71 375.17,255.51" fill="#008000"/>
<polygon points="395.29,250.23 397.69,253.43 395.29,256.63 392.89,253.43" fill="#008000"/>
<polygon points="416.75,247.23 419.15,250.43 416.75,253.63 414.35,250.43" fill="#008000"/>
<polygon points="442.73,250.83 445.13,254.03 442.73,257.23 440.33,254.03" fill="#008000"/>
<polygon points="474.18,250.83 476.58,254.03 474.18,257.23 471.78,254.03" fill="#008000"/>
<polygon points="512.25,250.83 514.65,254.03 512.25,257.23 509.85,254.03" fill="#008000"/>
</g>
<text x="293.40" y="351.50" text-anchor="middle" font-family="'Liberation Sans',Arial,sans-serif" font-weight="bold" font-size="11">0</text>
<text x="331.18" y="351.50" text-anchor="middle" font-family="'Liberation Sans',Arial,sans-serif" font-weight="bold" font-size="11">2</text>
<text x="368.96" y="351.50" text-anchor="middle" font-family="'Liberation Sans',Arial,sans-serif" font-weight="bold" font-size="11">4</text>
<text x="406.74" y="351.50" text-anchor="middle" font-family="'Liberation Sans',Arial,sans-serif" font-weight="bold" font-size="11">6</text>
<text x="444.52" y="351.50" text-anchor="middle" font-family="'Liberation Sans',Arial,sans-serif" font-weight="bold" font-size="11">8</text>
<text x="482.30" y="351.50" text-anchor="middle" font-family="'Liberation Sans',Arial,sans-serif" font-weight="bold" font-size="11">10</text>
<text x="289.90" y="343.70" text-anchor="end" font-family="'Liberation Sans',Arial,sans-serif" font-weight="bold" font-size="11">0</text>
<text x="289.90" y="300.99" text-anchor="end" font-family="'Liberation Sans',Arial,sans-serif" font-weight="bold" font-size="11">2</text>
<text x="289.90" y="258.28" text-anchor="end" font-family="'Liberation Sans',Arial,sans-serif" font-weight="bold" font-size="11">4</text>
<text x="289.90" y="215.58" text-anchor="end" font-family="'Liberation Sans',Arial,sans-serif" font-weight="bold" font-size="11">6</text>
<text x="338.70" y="196.60" font-family="'Liberation Serif','Times New Roman',serif" font-weight="bold" font-size="12" textLength="98.30" lengthAdjust="spacingAndGlyphs">GO-6.0wt% PDASA</text>
<text x="258.00" y="214.50" font-family="'Liberation Serif','Times New Roman',serif" font-weight="bold" font-size="16.5">(e)</text>
<text x="388.65" y="362.90" text-anchor="middle" font-family="'Liberation Serif','Times New Roman',serif" font-weight="bold" font-size="11">P/P<tspan font-size="7.5">0</tspan></text>
<text transform="translate(275.60,279.50) rotate(-90) scale(0.94,1)" text-anchor="middle" font-family="'Liberation Serif','Times New Roman',serif" font-weight="bold" font-size="11.9">Loading (mmol·g<tspan font-size="8" dy="-6" dx="0.6">-1</tspan><tspan dy="6">)</tspan></text>
<line x1="487.3" y1="210.60" x2="513.1" y2="210.60" stroke="#000000" stroke-width="2.15"/>
<rect x="498.00" y="208.40" width="4.40" height="4.40" fill="#000000"/>
<text x="515.9" y="214.20" font-family="'Liberation Serif','Times New Roman',serif" font-weight="bold" font-size="10.7">N<tspan font-size="6.8" dy="0.5">2</tspan></text>
<line x1="487.3" y1="224.65" x2="513.1" y2="224.65" stroke="#ff0000" stroke-width="2.15"/>
<circle cx="500.20" cy="224.65" r="2.60" fill="#ff0000"/>
<text x="515.9" y="228.25" font-family="'Liberation Serif','Times New Roman',serif" font-weight="bold" font-size="10.7">CH<tspan font-size="6.8" dy="0.5">4</tspan></text>
<line x1="487.3" y1="238.70" x2="513.1" y2="238.70" stroke="#0000ff" stroke-width="2.15"/>
<polygon points="500.20,235.60 503.15,240.56 497.26,240.56" fill="#0000ff"/>
<text x="515.9" y="242.30" font-family="'Liberation Serif','Times New Roman',serif" font-weight="bold" font-size="10.7">CO<tspan font-size="6.8" dy="0.5">2</tspan></text>
<line x1="487.3" y1="252.75" x2="513.1" y2="252.75" stroke="#ff00ff" stroke-width="2.15"/>
<polygon points="500.20,255.85 503.15,250.89 497.26,250.89" fill="#ff00ff"/>
<text x="515.9" y="256.35" font-family="'Liberation Serif','Times New Roman',serif" font-weight="bold" font-size="10.7">H<tspan font-size="6.8" dy="0.5">2</tspan><tspan dy="-0.5">S</tspan></text>
<line x1="487.3" y1="266.80" x2="513.1" y2="266.80" stroke="#008000" stroke-width="2.15"/>
<polygon points="500.20,263.60 502.60,266.80 500.20,270.00 497.80,266.80" fill="#008000"/>
<text x="515.9" y="270.40" font-family="'Liberation Serif','Times New Roman',serif" font-weight="bold" font-size="10.7">SO<tspan font-size="6.8" dy="0.5">2</tspan></text>
<rect x="292.8" y="385.1" width="188.7" height="138.5" fill="none" stroke="#555555" stroke-width="1"/>
<path d="M292.80,523.6v-3M292.80,385.1v3M311.67,523.6v-1.5M311.67,385.1v1.5M330.54,523.6v-3M330.54,385.1v3M349.41,523.6v-1.5M349.41,385.1v1.5M368.28,523.6v-3M368.28,385.1v3M387.15,523.6v-1.5M387.15,385.1v1.5M406.02,523.6v-3M406.02,385.1v3M424.89,523.6v-1.5M424.89,385.1v1.5M443.76,523.6v-3M443.76,385.1v3M462.63,523.6v-1.5M462.63,385.1v1.5M481.50,523.6v-3M481.50,385.1v3M292.8,523.60h3M481.5,523.60h-3M292.8,502.29h1.5M481.5,502.29h-1.5M292.8,480.98h3M481.5,480.98h-3M292.8,459.68h1.5M481.5,459.68h-1.5M292.8,438.37h3M481.5,438.37h-3M292.8,417.06h1.5M481.5,417.06h-1.5M292.8,395.75h3M481.5,395.75h-3" stroke="#555555" stroke-width="1" fill="none"/>
<g clip-path="url(#c5)">
<polyline points="292.80,523.60 293.02,523.55 293.07,523.54 293.13,523.53 293.20,523.51 293.28,523.49 293.38,523.47 293.51,523.44 293.66,523.41 293.84,523.37 294.06,523.32 294.32,523.26 294.64,523.18 295.03,523.01 295.50,522.77 296.06,522.49 296.75,522.15 297.58,521.74 298.59,521.34 299.81,520.87 301.29,520.30 303.07,519.60 305.24,518.86 307.85,518.12 311.03,517.23 314.86,515.95 319.51,514.25 325.14,512.23 331.95,510.49 340.19,508.46 350.17,505.70 362.25,504.21 376.88,501.88 394.58,499.54 416.02,496.95 441.97,494.65 473.39,491.21 511.42,489.83" fill="none" stroke="#000000" stroke-width="1.85" stroke-linejoin="round"/>
<rect x="290.82" y="521.35" width="4.40" height="4.40" fill="#000000"/>
<rect x="290.87" y="521.34" width="4.40" height="4.40" fill="#000000"/>
<rect x="290.93" y="521.33" width="4.40" height="4.40" fill="#000000"/>
<rect x="291.00" y="521.31" width="4.40" height="4.40" fill="#000000"/>
<rect x="291.08" y="521.29" width="4.40" height="4.40" fill="#000000"/>
<rect x="291.18" y="521.27" width="4.40" height="4.40" fill="#000000"/>
<rect x="291.31" y="521.24" width="4.40" height="4.40" fill="#000000"/>
<rect x="291.46" y="521.21" width="4.40" height="4.40" fill="#000000"/>
<rect x="291.64" y="521.17" width="4.40" height="4.40" fill="#000000"/>
<rect x="291.86" y="521.12" width="4.40" height="4.40" fill="#000000"/>
<rect x="292.12" y="521.06" width="4.40" height="4.40" fill="#000000"/>
<rect x="292.44" y="520.98" width="4.40" height="4.40" fill="#000000"/>
<rect x="292.83" y="520.81" width="4.40" height="4.40" fill="#000000"/>
<rect x="293.30" y="520.57" width="4.40" height="4.40" fill="#000000"/>
<rect x="293.86" y="520.29" width="4.40" height="4.40" fill="#000000"/>
<rect x="294.55" y="519.95" width="4.40" height="4.40" fill="#000000"/>
<rect x="295.38" y="519.54" width="4.40" height="4.40" fill="#000000"/>
<rect x="296.39" y="519.14" width="4.40" height="4.40" fill="#000000"/>
<rect x="297.61" y="518.67" width="4.40" height="4.40" fill="#000000"/>
<rect x="299.09" y="518.10" width="4.40" height="4.40" fill="#000000"/>
<rect x="300.87" y="517.40" width="4.40" height="4.40" fill="#000000"/>
<rect x="303.04" y="516.66" width="4.40" height="4.40" fill="#000000"/>
<rect x="305.65" y="515.92" width="4.40" height="4.40" fill="#000000"/>
<rect x="308.83" y="515.03" width="4.40" height="4.40" fill="#000000"/>
<rect x="312.66" y="513.75" width="4.40" height="4.40" fill="#000000"/>
<rect x="317.31" y="512.05" width="4.40" height="4.40" fill="#000000"/>
<rect x="322.94" y="510.03" width="4.40" height="4.40" fill="#000000"/>
<rect x="329.75" y="508.29" width="4.40" height="4.40" fill="#000000"/>
<rect x="337.99" y="506.26" width="4.40" height="4.40" fill="#000000"/>
<rect x="347.97" y="503.50" width="4.40" height="4.40" fill="#000000"/>
<rect x="360.05" y="502.01" width="4.40" height="4.40" fill="#000000"/>
<rect x="374.68" y="499.68" width="4.40" height="4.40" fill="#000000"/>
<rect x="392.38" y="497.34" width="4.40" height="4.40" fill="#000000"/>
<rect x="413.82" y="494.75" width="4.40" height="4.40" fill="#000000"/>
<rect x="439.77" y="492.45" width="4.40" height="4.40" fill="#000000"/>
<rect x="471.19" y="489.01" width="4.40" height="4.40" fill="#000000"/>
<rect x="509.22" y="487.63" width="4.40" height="4.40" fill="#000000"/>
<polyline points="292.80,523.60 293.02,523.09 293.07,522.99 293.13,522.86 293.20,522.70 293.28,522.51 293.38,522.28 293.51,522.00 293.66,521.67 293.84,521.31 294.06,520.93 294.32,520.47 294.64,519.91 295.03,519.24 295.50,518.43 296.06,517.44 296.75,516.61 297.58,515.70 298.59,514.61 299.81,513.29 301.29,511.75 303.07,510.43 305.24,508.83 307.85,506.90 311.03,504.57 314.86,502.24 319.51,499.41 325.14,496.10 331.95,494.04 340.19,491.21 350.17,488.44 362.25,486.52 376.88,483.77 394.58,481.21 416.02,478.19 441.97,475.47 473.39,473.95 511.42,473.95" fill="none" stroke="#ff0000" stroke-width="1.85" stroke-linejoin="round"/>
<circle cx="293.02" cy="523.09" r="2.60" fill="#ff0000"/>
<circle cx="293.07" cy="522.99" r="2.60" fill="#ff0000"/>
<circle cx="293.13" cy="522.86" r="2.60" fill="#ff0000"/>
<circle cx="293.20" cy="522.70" r="2.60" fill="#ff0000"/>
<circle cx="293.28" cy="522.51" r="2.60" fill="#ff0000"/>
<circle cx="293.38" cy="522.28" r="2.60" fill="#ff0000"/>
<circle cx="293.51" cy="522.00" r="2.60" fill="#ff0000"/>
<circle cx="293.66" cy="521.67" r="2.60" fill="#ff0000"/>
<circle cx="293.84" cy="521.31" r="2.60" fill="#ff0000"/>
<circle cx="294.06" cy="520.93" r="2.60" fill="#ff0000"/>
<circle cx="294.32" cy="520.47" r="2.60" fill="#ff0000"/>
<circle cx="294.64" cy="519.91" r="2.60" fill="#ff0000"/>
<circle cx="295.03" cy="519.24" r="2.60" fill="#ff0000"/>
<circle cx="295.50" cy="518.43" r="2.60" fill="#ff0000"/>
<circle cx="296.06" cy="517.44" r="2.60" fill="#ff0000"/>
<circle cx="296.75" cy="516.61" r="2.60" fill="#ff0000"/>
<circle cx="297.58" cy="515.70" r="2.60" fill="#ff0000"/>
<circle cx="298.59" cy="514.61" r="2.60" fill="#ff0000"/>
<circle cx="299.81" cy="513.29" r="2.60" fill="#ff0000"/>
<circle cx="301.29" cy="511.75" r="2.60" fill="#ff0000"/>
<circle cx="303.07" cy="510.43" r="2.60" fill="#ff0000"/>
<circle cx="305.24" cy="508.83" r="2.60" fill="#ff0000"/>
<circle cx="307.85" cy="506.90" r="2.60" fill="#ff0000"/>
<circle cx="311.03" cy="504.57" r="2.60" fill="#ff0000"/>
<circle cx="314.86" cy="502.24" r="2.60" fill="#ff0000"/>
<circle cx="319.51" cy="499.41" r="2.60" fill="#ff0000"/>
<circle cx="325.14" cy="496.10" r="2.60" fill="#ff0000"/>
<circle cx="331.95" cy="494.04" r="2.60" fill="#ff0000"/>
<circle cx="340.19" cy="491.21" r="2.60" fill="#ff0000"/>
<circle cx="350.17" cy="488.44" r="2.60" fill="#ff0000"/>
<circle cx="362.25" cy="486.52" r="2.60" fill="#ff0000"/>
<circle cx="376.88" cy="483.77" r="2.60" fill="#ff0000"/>
<circle cx="394.58" cy="481.21" r="2.60" fill="#ff0000"/>
<circle cx="416.02" cy="478.19" r="2.60" fill="#ff0000"/>
<circle cx="441.97" cy="475.47" r="2.60" fill="#ff0000"/>
<circle cx="473.39" cy="473.95" r="2.60" fill="#ff0000"/>
<circle cx="511.42" cy="473.95" r="2.60" fill="#ff0000"/>
<polyline points="292.80,523.60 293.27,523.60 293.30,523.60 293.32,523.60 293.34,523.60 293.37,523.60 293.39,523.60 293.41,523.60 293.44,523.60 293.46,523.60 293.48,523.60 293.51,523.60 293.53,523.60 293.55,523.60 293.58,523.60 293.60,523.60 293.63,523.60 293.65,523.60 293.67,523.60 293.70,523.60 293.72,523.60 293.74,523.60 293.84,498.33 294.06,494.76 294.32,490.78 294.64,485.96 295.03,478.72 295.50,470.29 296.06,465.40 296.75,459.49 297.58,455.77 298.59,452.61 299.81,448.96 301.29,445.63 303.07,442.29 305.24,440.93 307.85,440.93 311.03,436.76 314.86,441.55 319.51,436.06 325.14,437.84 331.95,431.65 340.19,428.75 350.17,427.93 362.25,425.83 376.88,422.68 394.58,427.25 416.02,424.08 441.97,422.38 473.39,418.13 511.42,419.05" fill="none" stroke="#0000ff" stroke-width="1.85" stroke-linejoin="round"/>
<polygon points="293.27,520.50 296.22,525.46 290.33,525.46" fill="#0000ff"/>
<polygon points="293.30,520.50 296.24,525.46 290.35,525.46" fill="#0000ff"/>
<polygon points="293.32,520.50 296.26,525.46 290.37,525.46" fill="#0000ff"/>
<polygon points="293.34,520.50 296.29,525.46 290.40,525.46" fill="#0000ff"/>
<polygon points="293.37,520.50 296.31,525.46 290.42,525.46" fill="#0000ff"/>
<polygon points="293.39,520.50 296.33,525.46 290.44,525.46" fill="#0000ff"/>
<polygon points="293.41,520.50 296.36,525.46 290.47,525.46" fill="#0000ff"/>
<polygon points="293.44,520.50 296.38,525.46 290.49,525.46" fill="#0000ff"/>
<polygon points="293.46,520.50 296.41,525.46 290.52,525.46" fill="#0000ff"/>
<polygon points="293.48,520.50 296.43,525.46 290.54,525.46" fill="#0000ff"/>
<polygon points="293.51,520.50 296.45,525.46 290.56,525.46" fill="#0000ff"/>
<polygon points="293.53,520.50 296.48,525.46 290.59,525.46" fill="#0000ff"/>
<polygon points="293.55,520.50 296.50,525.46 290.61,525.46" fill="#0000ff"/>
<polygon points="293.58,520.50 296.52,525.46 290.63,525.46" fill="#0000ff"/>
<polygon points="293.60,520.50 296.55,525.46 290.66,525.46" fill="#0000ff"/>
<polygon points="293.63,520.50 296.57,525.46 290.68,525.46" fill="#0000ff"/>
<polygon points="293.65,520.50 296.59,525.46 290.70,525.46" fill="#0000ff"/>
<polygon points="293.67,520.50 296.62,525.46 290.73,525.46" fill="#0000ff"/>
<polygon points="293.70,520.50 296.64,525.46 290.75,525.46" fill="#0000ff"/>
<polygon points="293.72,520.50 296.66,525.46 290.77,525.46" fill="#0000ff"/>
<polygon points="293.74,520.50 296.69,525.46 290.80,525.46" fill="#0000ff"/>
<polygon points="293.84,495.23 296.78,500.19 290.89,500.19" fill="#0000ff"/>
<polygon points="294.06,491.66 297.00,496.62 291.11,496.62" fill="#0000ff"/>
<polygon points="294.32,487.68 297.26,492.64 291.37,492.64" fill="#0000ff"/>
<polygon points="294.64,482.86 297.58,487.82 291.69,487.82" fill="#0000ff"/>
<polygon points="295.03,475.62 297.97,480.58 292.08,480.58" fill="#0000ff"/>
<polygon points="295.50,467.19 298.44,472.15 292.55,472.15" fill="#0000ff"/>
<polygon points="296.06,462.30 299.01,467.26 293.12,467.26" fill="#0000ff"/>
<polygon points="296.75,456.39 299.70,461.35 293.81,461.35" fill="#0000ff"/>
<polygon points="297.58,452.67 300.53,457.63 294.64,457.63" fill="#0000ff"/>
<polygon points="298.59,449.51 301.53,454.47 295.64,454.47" fill="#0000ff"/>
<polygon points="299.81,445.86 302.75,450.82 296.86,450.82" fill="#0000ff"/>
<polygon points="301.29,442.53 304.23,447.49 298.34,447.49" fill="#0000ff"/>
<polygon points="303.07,439.19 306.02,444.15 300.13,444.15" fill="#0000ff"/>
<polygon points="305.24,437.83 308.18,442.79 302.29,442.79" fill="#0000ff"/>
<polygon points="307.85,437.83 310.80,442.79 304.91,442.79" fill="#0000ff"/>
<polygon points="311.03,433.66 313.97,438.62 308.08,438.62" fill="#0000ff"/>
<polygon points="314.86,438.45 317.81,443.41 311.92,443.41" fill="#0000ff"/>
<polygon points="319.51,432.96 322.46,437.92 316.57,437.92" fill="#0000ff"/>
<polygon points="325.14,434.74 328.08,439.70 322.19,439.70" fill="#0000ff"/>
<polygon points="331.95,428.55 334.89,433.51 329.00,433.51" fill="#0000ff"/>
<polygon points="340.19,425.65 343.13,430.61 337.24,430.61" fill="#0000ff"/>
<polygon points="350.17,424.83 353.11,429.79 347.22,429.79" fill="#0000ff"/>
<polygon points="362.25,422.73 365.20,427.69 359.31,427.69" fill="#0000ff"/>
<polygon points="376.88,419.58 379.82,424.54 373.93,424.54" fill="#0000ff"/>
<polygon points="394.58,424.15 397.53,429.11 391.64,429.11" fill="#0000ff"/>
<polygon points="416.02,420.98 418.97,425.94 413.08,425.94" fill="#0000ff"/>
<polygon points="441.97,419.28 444.92,424.24 439.03,424.24" fill="#0000ff"/>
<polygon points="473.39,415.03 476.33,419.99 470.44,419.99" fill="#0000ff"/>
<polygon points="511.42,415.95 514.36,420.91 508.47,420.91" fill="#0000ff"/>
<polyline points="292.80,523.60 293.27,523.60 293.30,520.10 293.32,516.60 293.34,513.09 293.37,509.59 293.39,506.09 293.41,502.59 293.44,499.08 293.46,495.58 293.48,492.08 293.51,488.58 293.53,485.07 293.55,481.57 293.58,478.07 293.60,474.57 293.63,471.06 293.65,467.56 293.67,464.06 293.70,460.56 293.72,457.05 293.74,453.55 293.84,451.84 294.06,449.63 294.32,448.63 294.64,447.43 295.03,445.97 295.50,444.20 296.06,442.75 296.75,441.24 297.58,439.41 298.59,437.20 299.81,435.36 301.29,433.69 303.07,432.52 305.24,432.90 307.85,431.85 311.03,429.30 314.86,426.01 319.51,425.79 325.14,423.52 331.95,423.28 340.19,418.86 350.17,421.11 362.25,424.05 376.88,418.83 394.58,422.56 416.02,419.18 441.97,417.07 473.39,420.47 511.42,416.31" fill="none" stroke="#ff00ff" stroke-width="1.85" stroke-linejoin="round"/>
<polygon points="293.27,526.70 296.22,521.74 290.33,521.74" fill="#ff00ff"/>
<polygon points="293.30,523.20 296.24,518.24 290.35,518.24" fill="#ff00ff"/>
<polygon points="293.32,519.70 296.26,514.74 290.37,514.74" fill="#ff00ff"/>
<polygon points="293.34,516.19 296.29,511.23 290.40,511.23" fill="#ff00ff"/>
<polygon points="293.37,512.69 296.31,507.73 290.42,507.73" fill="#ff00ff"/>
<polygon points="293.39,509.19 296.33,504.23 290.44,504.23" fill="#ff00ff"/>
<polygon points="293.41,505.69 296.36,500.73 290.47,500.73" fill="#ff00ff"/>
<polygon points="293.44,502.18 296.38,497.22 290.49,497.22" fill="#ff00ff"/>
<polygon points="293.46,498.68 296.41,493.72 290.52,493.72" fill="#ff00ff"/>
<polygon points="293.48,495.18 296.43,490.22 290.54,490.22" fill="#ff00ff"/>
<polygon points="293.51,491.68 296.45,486.72 290.56,486.72" fill="#ff00ff"/>
<polygon points="293.53,488.17 296.48,483.21 290.59,483.21" fill="#ff00ff"/>
<polygon points="293.55,484.67 296.50,479.71 290.61,479.71" fill="#ff00ff"/>
<polygon points="293.58,481.17 296.52,476.21 290.63,476.21" fill="#ff00ff"/>
<polygon points="293.60,477.67 296.55,472.71 290.66,472.71" fill="#ff00ff"/>
<polygon points="293.63,474.16 296.57,469.20 290.68,469.20" fill="#ff00ff"/>
<polygon points="293.65,470.66 296.59,465.70 290.70,465.70" fill="#ff00ff"/>
<polygon points="293.67,467.16 296.62,462.20 290.73,462.20" fill="#ff00ff"/>
<polygon points="293.70,463.66 296.64,458.70 290.75,458.70" fill="#ff00ff"/>
<polygon points="293.72,460.15 296.66,455.19 290.77,455.19" fill="#ff00ff"/>
<polygon points="293.74,456.65 296.69,451.69 290.80,451.69" fill="#ff00ff"/>
<polygon points="293.84,454.94 296.78,449.98 290.89,449.98" fill="#ff00ff"/>
<polygon points="294.06,452.73 297.00,447.77 291.11,447.77" fill="#ff00ff"/>
<polygon points="294.32,451.73 297.26,446.77 291.37,446.77" fill="#ff00ff"/>
<polygon points="294.64,450.53 297.58,445.57 291.69,445.57" fill="#ff00ff"/>
<polygon points="295.03,449.07 297.97,444.11 292.08,444.11" fill="#ff00ff"/>
<polygon points="295.50,447.30 298.44,442.34 292.55,442.34" fill="#ff00ff"/>
<polygon points="296.06,445.85 299.01,440.89 293.12,440.89" fill="#ff00ff"/>
<polygon points="296.75,444.34 299.70,439.38 293.81,439.38" fill="#ff00ff"/>
<polygon points="297.58,442.51 300.53,437.55 294.64,437.55" fill="#ff00ff"/>
<polygon points="298.59,440.30 301.53,435.34 295.64,435.34" fill="#ff00ff"/>
<polygon points="299.81,438.46 302.75,433.50 296.86,433.50" fill="#ff00ff"/>
<polygon points="301.29,436.79 304.23,431.83 298.34,431.83" fill="#ff00ff"/>
<polygon points="303.07,435.62 306.02,430.66 300.13,430.66" fill="#ff00ff"/>
<polygon points="305.24,436.00 308.18,431.04 302.29,431.04" fill="#ff00ff"/>
<polygon points="307.85,434.95 310.80,429.99 304.91,429.99" fill="#ff00ff"/>
<polygon points="311.03,432.40 313.97,427.44 308.08,427.44" fill="#ff00ff"/>
<polygon points="314.86,429.11 317.81,424.15 311.92,424.15" fill="#ff00ff"/>
<polygon points="319.51,428.89 322.46,423.93 316.57,423.93" fill="#ff00ff"/>
<polygon points="325.14,426.62 328.08,421.66 322.19,421.66" fill="#ff00ff"/>
<polygon points="331.95,426.38 334.89,421.42 329.00,421.42" fill="#ff00ff"/>
<polygon points="340.19,421.96 343.13,417.00 337.24,417.00" fill="#ff00ff"/>
<polygon points="350.17,424.21 353.11,419.25 347.22,419.25" fill="#ff00ff"/>
<polygon points="362.25,427.15 365.20,422.19 359.31,422.19" fill="#ff00ff"/>
<polygon points="376.88,421.93 379.82,416.97 373.93,416.97" fill="#ff00ff"/>
<polygon points="394.58,425.66 397.53,420.70 391.64,420.70" fill="#ff00ff"/>
<polygon points="416.02,422.28 418.97,417.32 413.08,417.32" fill="#ff00ff"/>
<polygon points="441.97,420.17 444.92,415.21 439.03,415.21" fill="#ff00ff"/>
<polygon points="473.39,423.57 476.33,418.61 470.44,418.61" fill="#ff00ff"/>
<polygon points="511.42,419.41 514.36,414.45 508.47,414.45" fill="#ff00ff"/>
<polyline points="292.80,502.72 293.27,502.72 293.30,499.74 293.32,496.77 293.34,493.79 293.37,490.82 293.39,487.84 293.41,484.87 293.44,481.89 293.46,478.92 293.48,475.94 293.51,472.97 293.53,469.99 293.55,467.02 293.58,464.04 293.60,461.07 293.63,458.09 293.65,455.12 293.67,452.14 293.70,449.17 293.72,446.19 293.74,443.22 293.84,442.61 294.06,441.87 294.32,441.61 294.64,441.29 295.03,440.91 295.50,440.45 296.06,439.89 296.75,439.21 297.58,438.47 298.59,437.60 299.81,436.55 301.29,435.41 303.07,434.49 305.24,433.75 307.85,438.02 311.03,438.31 314.86,437.84 319.51,439.37 325.14,436.04 331.95,437.07 340.19,434.76 350.17,434.96 362.25,432.44 376.88,432.40 394.58,432.41 416.02,432.83 441.97,432.83 473.39,432.83 511.42,432.37" fill="none" stroke="#008000" stroke-width="1.85" stroke-linejoin="round"/>
<polygon points="293.27,499.52 295.67,502.72 293.27,505.92 290.87,502.72" fill="#008000"/>
<polygon points="293.30,496.54 295.70,499.74 293.30,502.94 290.90,499.74" fill="#008000"/>
<polygon points="293.32,493.57 295.72,496.77 293.32,499.97 290.92,496.77" fill="#008000"/>
<polygon points="293.34,490.59 295.74,493.79 293.34,496.99 290.94,493.79" fill="#008000"/>
<polygon points="293.37,487.62 295.77,490.82 293.37,494.02 290.97,490.82" fill="#008000"/>
<polygon points="293.39,484.64 295.79,487.84 293.39,491.04 290.99,487.84" fill="#008000"/>
<polygon points="293.41,481.67 295.81,484.87 293.41,488.07 291.01,484.87" fill="#008000"/>
<polygon points="293.44,478.69 295.84,481.89 293.44,485.09 291.04,481.89" fill="#008000"/>
<polygon points="293.46,475.72 295.86,478.92 293.46,482.12 291.06,478.92" fill="#008000"/>
<polygon points="293.48,472.74 295.88,475.94 293.48,479.14 291.08,475.94" fill="#008000"/>
<polygon points="293.51,469.77 295.91,472.97 293.51,476.17 291.11,472.97" fill="#008000"/>
<polygon points="293.53,466.79 295.93,469.99 293.53,473.19 291.13,469.99" fill="#008000"/>
<polygon points="293.55,463.82 295.95,467.02 293.55,470.22 291.15,467.02" fill="#008000"/>
<polygon points="293.58,460.84 295.98,464.04 293.58,467.24 291.18,464.04" fill="#008000"/>
<polygon points="293.60,457.87 296.00,461.07 293.60,464.27 291.20,461.07" fill="#008000"/>
<polygon points="293.63,454.89 296.03,458.09 293.63,461.29 291.23,458.09" fill="#008000"/>
<polygon points="293.65,451.92 296.05,455.12 293.65,458.32 291.25,455.12" fill="#008000"/>
<polygon points="293.67,448.94 296.07,452.14 293.67,455.34 291.27,452.14" fill="#008000"/>
<polygon points="293.70,445.97 296.10,449.17 293.70,452.37 291.30,449.17" fill="#008000"/>
<polygon points="293.72,442.99 296.12,446.19 293.72,449.39 291.32,446.19" fill="#008000"/>
<polygon points="293.74,440.02 296.14,443.22 293.74,446.42 291.34,443.22" fill="#008000"/>
<polygon points="293.84,439.41 296.24,442.61 293.84,445.81 291.44,442.61" fill="#008000"/>
<polygon points="294.06,438.67 296.46,441.87 294.06,445.07 291.66,441.87" fill="#008000"/>
<polygon points="294.32,438.41 296.72,441.61 294.32,444.81 291.92,441.61" fill="#008000"/>
<polygon points="294.64,438.09 297.04,441.29 294.64,444.49 292.24,441.29" fill="#008000"/>
<polygon points="295.03,437.71 297.43,440.91 295.03,444.11 292.63,440.91" fill="#008000"/>
<polygon points="295.50,437.25 297.90,440.45 295.50,443.65 293.10,440.45" fill="#008000"/>
<polygon points="296.06,436.69 298.46,439.89 296.06,443.09 293.66,439.89" fill="#008000"/>
<polygon points="296.75,436.01 299.15,439.21 296.75,442.41 294.35,439.21" fill="#008000"/>
<polygon points="297.58,435.27 299.98,438.47 297.58,441.67 295.18,438.47" fill="#008000"/>
<polygon points="298.59,434.40 300.99,437.60 298.59,440.80 296.19,437.60" fill="#008000"/>
<polygon points="299.81,433.35 302.21,436.55 299.81,439.75 297.41,436.55" fill="#008000"/>
<polygon points="301.29,432.21 303.69,435.41 301.29,438.61 298.89,435.41" fill="#008000"/>
<polygon points="303.07,431.29 305.47,434.49 303.07,437.69 300.67,434.49" fill="#008000"/>
<polygon points="305.24,430.55 307.64,433.75 305.24,436.95 302.84,433.75" fill="#008000"/>
<polygon points="307.85,434.82 310.25,438.02 307.85,441.22 305.45,438.02" fill="#008000"/>
<polygon points="311.03,435.11 313.43,438.31 311.03,441.51 308.63,438.31" fill="#008000"/>
<polygon points="314.86,434.64 317.26,437.84 314.86,441.04 312.46,437.84" fill="#008000"/>
<polygon points="319.51,436.17 321.91,439.37 319.51,442.57 317.11,439.37" fill="#008000"/>
<polygon points="325.14,432.84 327.54,436.04 325.14,439.24 322.74,436.04" fill="#008000"/>
<polygon points="331.95,433.87 334.35,437.07 331.95,440.27 329.55,437.07" fill="#008000"/>
<polygon points="340.19,431.56 342.59,434.76 340.19,437.96 337.79,434.76" fill="#008000"/>
<polygon points="350.17,431.76 352.57,434.96 350.17,438.16 347.77,434.96" fill="#008000"/>
<polygon points="362.25,429.24 364.65,432.44 362.25,435.64 359.85,432.44" fill="#008000"/>
<polygon points="376.88,429.20 379.28,432.40 376.88,435.60 374.48,432.40" fill="#008000"/>
<polygon points="394.58,429.21 396.98,432.41 394.58,435.61 392.18,432.41" fill="#008000"/>
<polygon points="416.02,429.63 418.42,432.83 416.02,436.03 413.62,432.83" fill="#008000"/>
<polygon points="441.97,429.63 444.37,432.83 441.97,436.03 439.57,432.83" fill="#008000"/>
<polygon points="473.39,429.63 475.79,432.83 473.39,436.03 470.99,432.83" fill="#008000"/>
<polygon points="511.42,429.17 513.82,432.37 511.42,435.57 509.02,432.37" fill="#008000"/>
</g>
<text x="292.80" y="534.80" text-anchor="middle" font-family="'Liberation Sans',Arial,sans-serif" font-weight="bold" font-size="11">0</text>
<text x="330.54" y="534.80" text-anchor="middle" font-family="'Liberation Sans',Arial,sans-serif" font-weight="bold" font-size="11">2</text>
<text x="368.28" y="534.80" text-anchor="middle" font-family="'Liberation Sans',Arial,sans-serif" font-weight="bold" font-size="11">4</text>
<text x="406.02" y="534.80" text-anchor="middle" font-family="'Liberation Sans',Arial,sans-serif" font-weight="bold" font-size="11">6</text>
<text x="443.76" y="534.80" text-anchor="middle" font-family="'Liberation Sans',Arial,sans-serif" font-weight="bold" font-size="11">8</text>
<text x="481.50" y="534.80" text-anchor="middle" font-family="'Liberation Sans',Arial,sans-serif" font-weight="bold" font-size="11">10</text>
<text x="289.30" y="527.00" text-anchor="end" font-family="'Liberation Sans',Arial,sans-serif" font-weight="bold" font-size="11">0</text>
<text x="289.30" y="484.38" text-anchor="end" font-family="'Liberation Sans',Arial,sans-serif" font-weight="bold" font-size="11">2</text>
<text x="289.30" y="441.77" text-anchor="end" font-family="'Liberation Sans',Arial,sans-serif" font-weight="bold" font-size="11">4</text>
<text x="289.30" y="399.15" text-anchor="end" font-family="'Liberation Sans',Arial,sans-serif" font-weight="bold" font-size="11">6</text>
<text x="338.00" y="380.20" font-family="'Liberation Serif','Times New Roman',serif" font-weight="bold" font-size="12" textLength="98.30" lengthAdjust="spacingAndGlyphs">GO-7.5wt% PDASA</text>
<text x="258.00" y="399.70" font-family="'Liberation Serif','Times New Roman',serif" font-weight="bold" font-size="16.5">(f)</text>
<text x="387.95" y="546.20" text-anchor="middle" font-family="'Liberation Serif','Times New Roman',serif" font-weight="bold" font-size="11">P/P<tspan font-size="7.5">0</tspan></text>
<text transform="translate(275.00,462.95) rotate(-90) scale(0.94,1)" text-anchor="middle" font-family="'Liberation Serif','Times New Roman',serif" font-weight="bold" font-size="11.9">Loading (mmol·g<tspan font-size="8" dy="-6" dx="0.6">-1</tspan><tspan dy="6">)</tspan></text>
<line x1="485.4" y1="394.90" x2="511.3" y2="394.90" stroke="#000000" stroke-width="2.15"/>
<rect x="496.15" y="392.70" width="4.40" height="4.40" fill="#000000"/>
<text x="514.2" y="398.50" font-family="'Liberation Serif','Times New Roman',serif" font-weight="bold" font-size="10.7">N<tspan font-size="6.8" dy="0.5">2</tspan></text>
<line x1="485.4" y1="408.95" x2="511.3" y2="408.95" stroke="#ff0000" stroke-width="2.15"/>
<circle cx="498.35" cy="408.95" r="2.60" fill="#ff0000"/>
<text x="514.2" y="412.55" font-family="'Liberation Serif','Times New Roman',serif" font-weight="bold" font-size="10.7">CH<tspan font-size="6.8" dy="0.5">4</tspan></text>
<line x1="485.4" y1="423.00" x2="511.3" y2="423.00" stroke="#0000ff" stroke-width="2.15"/>
<polygon points="498.35,419.90 501.30,424.86 495.41,424.86" fill="#0000ff"/>
<text x="514.2" y="426.60" font-family="'Liberation Serif','Times New Roman',serif" font-weight="bold" font-size="10.7">CO<tspan font-size="6.8" dy="0.5">2</tspan></text>
<line x1="485.4" y1="437.05" x2="511.3" y2="437.05" stroke="#ff00ff" stroke-width="2.15"/>
<polygon points="498.35,440.15 501.30,435.19 495.41,435.19" fill="#ff00ff"/>
<text x="514.2" y="440.65" font-family="'Liberation Serif','Times New Roman',serif" font-weight="bold" font-size="10.7">H<tspan font-size="6.8" dy="0.5">2</tspan><tspan dy="-0.5">S</tspan></text>
<line x1="485.4" y1="451.10" x2="511.3" y2="451.10" stroke="#008000" stroke-width="2.15"/>
<polygon points="498.35,447.90 500.75,451.10 498.35,454.30 495.95,451.10" fill="#008000"/>
<text x="514.2" y="454.70" font-family="'Liberation Serif','Times New Roman',serif" font-weight="bold" font-size="10.7">SO<tspan font-size="6.8" dy="0.5">2</tspan></text>
</svg>
</body></html>
